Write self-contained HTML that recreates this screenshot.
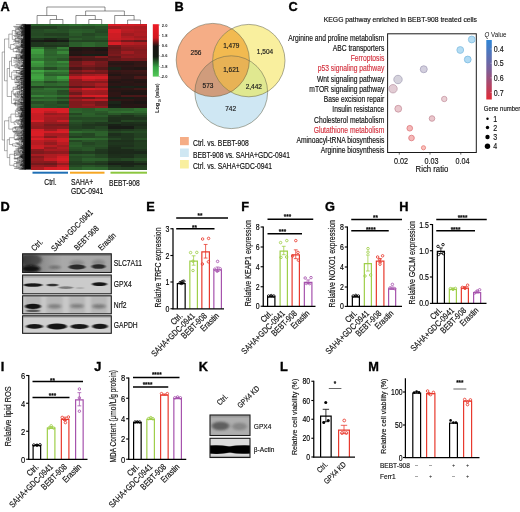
<!DOCTYPE html>
<html lang="en"><head><meta charset="utf-8"><title>Figure</title>
<style>
html,body{margin:0;padding:0;background:#fff;}
body{width:520px;height:512px;overflow:hidden;}
svg{display:block;font-family:"Liberation Sans",Arial,Helvetica,sans-serif;}
</style></head><body>
<svg width="520" height="512" viewBox="0 0 520 512">
<rect width="520" height="512" fill="#fff"/>
<g fill="#111">
<text x="0.50" y="11.30" font-size="12.8" font-weight="700" fill="#000" textLength="9.24" lengthAdjust="spacingAndGlyphs" stroke="#000" stroke-width="0.35">A</text>
<rect x="30.60" y="24.20" width="116.40" height="145.40" fill="#1a1a14"/>
<g shape-rendering="crispEdges">
<rect x="30.6" y="24.20" width="13.0" height="2.32" fill="#2c612c"/>
<rect x="43.5" y="24.20" width="13.0" height="2.32" fill="#2d642d"/>
<rect x="56.5" y="24.20" width="13.0" height="2.32" fill="#2e672e"/>
<rect x="69.4" y="24.20" width="13.0" height="2.32" fill="#317131"/>
<rect x="82.3" y="24.20" width="13.0" height="2.32" fill="#2f6b2f"/>
<rect x="95.3" y="24.20" width="13.0" height="2.32" fill="#317231"/>
<rect x="108.2" y="24.20" width="13.0" height="2.32" fill="#da1e26"/>
<rect x="121.1" y="24.20" width="13.0" height="2.32" fill="#d11d25"/>
<rect x="134.1" y="24.20" width="13.0" height="2.32" fill="#ce1d24"/>
<rect x="30.6" y="26.47" width="13.0" height="2.32" fill="#213c20"/>
<rect x="43.5" y="26.47" width="13.0" height="2.32" fill="#213b20"/>
<rect x="56.5" y="26.47" width="13.0" height="2.32" fill="#254824"/>
<rect x="69.4" y="26.47" width="13.0" height="2.32" fill="#264c25"/>
<rect x="82.3" y="26.47" width="13.0" height="2.32" fill="#254924"/>
<rect x="95.3" y="26.47" width="13.0" height="2.32" fill="#275126"/>
<rect x="108.2" y="26.47" width="13.0" height="2.32" fill="#a11b20"/>
<rect x="121.1" y="26.47" width="13.0" height="2.32" fill="#ae1c21"/>
<rect x="134.1" y="26.47" width="13.0" height="2.32" fill="#aa1c21"/>
<rect x="30.6" y="28.74" width="13.0" height="2.32" fill="#254924"/>
<rect x="43.5" y="28.74" width="13.0" height="2.32" fill="#285327"/>
<rect x="56.5" y="28.74" width="13.0" height="2.32" fill="#264d25"/>
<rect x="69.4" y="28.74" width="13.0" height="2.32" fill="#2a5a29"/>
<rect x="82.3" y="28.74" width="13.0" height="2.32" fill="#295729"/>
<rect x="95.3" y="28.74" width="13.0" height="2.32" fill="#264b25"/>
<rect x="108.2" y="28.74" width="13.0" height="2.32" fill="#da1e26"/>
<rect x="121.1" y="28.74" width="13.0" height="2.32" fill="#ba1c23"/>
<rect x="134.1" y="28.74" width="13.0" height="2.32" fill="#b01c22"/>
<rect x="30.6" y="31.02" width="13.0" height="2.32" fill="#264b25"/>
<rect x="43.5" y="31.02" width="13.0" height="2.32" fill="#275026"/>
<rect x="56.5" y="31.02" width="13.0" height="2.32" fill="#275026"/>
<rect x="69.4" y="31.02" width="13.0" height="2.32" fill="#2c5f2b"/>
<rect x="82.3" y="31.02" width="13.0" height="2.32" fill="#2a5a29"/>
<rect x="95.3" y="31.02" width="13.0" height="2.32" fill="#254724"/>
<rect x="108.2" y="31.02" width="13.0" height="2.32" fill="#da1e26"/>
<rect x="121.1" y="31.02" width="13.0" height="2.32" fill="#b31c22"/>
<rect x="134.1" y="31.02" width="13.0" height="2.32" fill="#aa1c21"/>
<rect x="30.6" y="33.29" width="13.0" height="2.32" fill="#254924"/>
<rect x="43.5" y="33.29" width="13.0" height="2.32" fill="#234021"/>
<rect x="56.5" y="33.29" width="13.0" height="2.32" fill="#224021"/>
<rect x="69.4" y="33.29" width="13.0" height="2.32" fill="#295728"/>
<rect x="82.3" y="33.29" width="13.0" height="2.32" fill="#254724"/>
<rect x="95.3" y="33.29" width="13.0" height="2.32" fill="#275026"/>
<rect x="108.2" y="33.29" width="13.0" height="2.32" fill="#cd1d24"/>
<rect x="121.1" y="33.29" width="13.0" height="2.32" fill="#a01b20"/>
<rect x="134.1" y="33.29" width="13.0" height="2.32" fill="#af1c22"/>
<rect x="30.6" y="35.56" width="13.0" height="2.32" fill="#274f26"/>
<rect x="43.5" y="35.56" width="13.0" height="2.32" fill="#274e26"/>
<rect x="56.5" y="35.56" width="13.0" height="2.32" fill="#254924"/>
<rect x="69.4" y="35.56" width="13.0" height="2.32" fill="#264c25"/>
<rect x="82.3" y="35.56" width="13.0" height="2.32" fill="#275026"/>
<rect x="95.3" y="35.56" width="13.0" height="2.32" fill="#2c5e2b"/>
<rect x="108.2" y="35.56" width="13.0" height="2.32" fill="#cd1d24"/>
<rect x="121.1" y="35.56" width="13.0" height="2.32" fill="#b01c22"/>
<rect x="134.1" y="35.56" width="13.0" height="2.32" fill="#a11b20"/>
<rect x="30.6" y="37.83" width="13.0" height="2.32" fill="#1e311c"/>
<rect x="43.5" y="37.83" width="13.0" height="2.32" fill="#1a2418"/>
<rect x="56.5" y="37.83" width="13.0" height="2.32" fill="#1e301c"/>
<rect x="69.4" y="37.83" width="13.0" height="2.32" fill="#2b5b2a"/>
<rect x="82.3" y="37.83" width="13.0" height="2.32" fill="#274f26"/>
<rect x="95.3" y="37.83" width="13.0" height="2.32" fill="#285327"/>
<rect x="108.2" y="37.83" width="13.0" height="2.32" fill="#c91d24"/>
<rect x="121.1" y="37.83" width="13.0" height="2.32" fill="#bb1c23"/>
<rect x="134.1" y="37.83" width="13.0" height="2.32" fill="#af1c21"/>
<rect x="30.6" y="40.10" width="13.0" height="2.32" fill="#181e16"/>
<rect x="43.5" y="40.10" width="13.0" height="2.32" fill="#1b1614"/>
<rect x="56.5" y="40.10" width="13.0" height="2.32" fill="#181e16"/>
<rect x="69.4" y="40.10" width="13.0" height="2.32" fill="#244523"/>
<rect x="82.3" y="40.10" width="13.0" height="2.32" fill="#234322"/>
<rect x="95.3" y="40.10" width="13.0" height="2.32" fill="#244422"/>
<rect x="108.2" y="40.10" width="13.0" height="2.32" fill="#a11b20"/>
<rect x="121.1" y="40.10" width="13.0" height="2.32" fill="#78191c"/>
<rect x="134.1" y="40.10" width="13.0" height="2.32" fill="#67191b"/>
<rect x="30.6" y="42.38" width="13.0" height="2.32" fill="#1f351e"/>
<rect x="43.5" y="42.38" width="13.0" height="2.32" fill="#223d20"/>
<rect x="56.5" y="42.38" width="13.0" height="2.32" fill="#234021"/>
<rect x="69.4" y="42.38" width="13.0" height="2.32" fill="#2b5d2b"/>
<rect x="82.3" y="42.38" width="13.0" height="2.32" fill="#2e662d"/>
<rect x="95.3" y="42.38" width="13.0" height="2.32" fill="#2b5c2a"/>
<rect x="108.2" y="42.38" width="13.0" height="2.32" fill="#da1e26"/>
<rect x="121.1" y="42.38" width="13.0" height="2.32" fill="#b61c22"/>
<rect x="134.1" y="42.38" width="13.0" height="2.32" fill="#ac1c21"/>
<rect x="30.6" y="44.65" width="13.0" height="2.32" fill="#1f351e"/>
<rect x="43.5" y="44.65" width="13.0" height="2.32" fill="#1f341d"/>
<rect x="56.5" y="44.65" width="13.0" height="2.32" fill="#20371e"/>
<rect x="69.4" y="44.65" width="13.0" height="2.32" fill="#2b5e2b"/>
<rect x="82.3" y="44.65" width="13.0" height="2.32" fill="#2e682e"/>
<rect x="95.3" y="44.65" width="13.0" height="2.32" fill="#2b5b2a"/>
<rect x="108.2" y="44.65" width="13.0" height="2.32" fill="#6f191c"/>
<rect x="121.1" y="44.65" width="13.0" height="2.32" fill="#961b1f"/>
<rect x="134.1" y="44.65" width="13.0" height="2.32" fill="#961b1f"/>
<rect x="30.6" y="46.92" width="13.0" height="2.32" fill="#347933"/>
<rect x="43.5" y="46.92" width="13.0" height="2.32" fill="#274f26"/>
<rect x="56.5" y="46.92" width="13.0" height="2.32" fill="#347c34"/>
<rect x="69.4" y="46.92" width="13.0" height="2.32" fill="#231614"/>
<rect x="82.3" y="46.92" width="13.0" height="2.32" fill="#251615"/>
<rect x="95.3" y="46.92" width="13.0" height="2.32" fill="#241614"/>
<rect x="108.2" y="46.92" width="13.0" height="2.32" fill="#64191a"/>
<rect x="121.1" y="46.92" width="13.0" height="2.32" fill="#861a1e"/>
<rect x="134.1" y="46.92" width="13.0" height="2.32" fill="#8e1a1e"/>
<rect x="30.6" y="49.19" width="13.0" height="2.32" fill="#3f9f3f"/>
<rect x="43.5" y="49.19" width="13.0" height="2.32" fill="#2c602b"/>
<rect x="56.5" y="49.19" width="13.0" height="2.32" fill="#2e682e"/>
<rect x="69.4" y="49.19" width="13.0" height="2.32" fill="#1d1614"/>
<rect x="82.3" y="49.19" width="13.0" height="2.32" fill="#251615"/>
<rect x="95.3" y="49.19" width="13.0" height="2.32" fill="#1b1614"/>
<rect x="108.2" y="49.19" width="13.0" height="2.32" fill="#6d191b"/>
<rect x="121.1" y="49.19" width="13.0" height="2.32" fill="#7f1a1d"/>
<rect x="134.1" y="49.19" width="13.0" height="2.32" fill="#821a1d"/>
<rect x="30.6" y="51.46" width="13.0" height="2.32" fill="#3e9a3e"/>
<rect x="43.5" y="51.46" width="13.0" height="2.32" fill="#2d652d"/>
<rect x="56.5" y="51.46" width="13.0" height="2.32" fill="#388638"/>
<rect x="69.4" y="51.46" width="13.0" height="2.32" fill="#271615"/>
<rect x="82.3" y="51.46" width="13.0" height="2.32" fill="#2e1615"/>
<rect x="95.3" y="51.46" width="13.0" height="2.32" fill="#2b1615"/>
<rect x="108.2" y="51.46" width="13.0" height="2.32" fill="#73191c"/>
<rect x="121.1" y="51.46" width="13.0" height="2.32" fill="#9f1b20"/>
<rect x="134.1" y="51.46" width="13.0" height="2.32" fill="#871a1e"/>
<rect x="30.6" y="53.73" width="13.0" height="2.32" fill="#388738"/>
<rect x="43.5" y="53.73" width="13.0" height="2.32" fill="#2c602c"/>
<rect x="56.5" y="53.73" width="13.0" height="2.32" fill="#2e662d"/>
<rect x="69.4" y="53.73" width="13.0" height="2.32" fill="#221614"/>
<rect x="82.3" y="53.73" width="13.0" height="2.32" fill="#191f17"/>
<rect x="95.3" y="53.73" width="13.0" height="2.32" fill="#181d16"/>
<rect x="108.2" y="53.73" width="13.0" height="2.32" fill="#7d1a1d"/>
<rect x="121.1" y="53.73" width="13.0" height="2.32" fill="#841a1e"/>
<rect x="134.1" y="53.73" width="13.0" height="2.32" fill="#8c1a1e"/>
<rect x="30.6" y="56.01" width="13.0" height="2.32" fill="#388939"/>
<rect x="43.5" y="56.01" width="13.0" height="2.32" fill="#2f6a2f"/>
<rect x="56.5" y="56.01" width="13.0" height="2.32" fill="#2e672e"/>
<rect x="69.4" y="56.01" width="13.0" height="2.32" fill="#5a181a"/>
<rect x="82.3" y="56.01" width="13.0" height="2.32" fill="#5e181a"/>
<rect x="95.3" y="56.01" width="13.0" height="2.32" fill="#831a1d"/>
<rect x="108.2" y="56.01" width="13.0" height="2.32" fill="#5f181a"/>
<rect x="121.1" y="56.01" width="13.0" height="2.32" fill="#901a1f"/>
<rect x="134.1" y="56.01" width="13.0" height="2.32" fill="#8a1a1e"/>
<rect x="30.6" y="58.28" width="13.0" height="2.32" fill="#327532"/>
<rect x="43.5" y="58.28" width="13.0" height="2.32" fill="#2d622c"/>
<rect x="56.5" y="58.28" width="13.0" height="2.32" fill="#295628"/>
<rect x="69.4" y="58.28" width="13.0" height="2.32" fill="#411717"/>
<rect x="82.3" y="58.28" width="13.0" height="2.32" fill="#511819"/>
<rect x="95.3" y="58.28" width="13.0" height="2.32" fill="#541819"/>
<rect x="108.2" y="58.28" width="13.0" height="2.32" fill="#69191b"/>
<rect x="121.1" y="58.28" width="13.0" height="2.32" fill="#75191c"/>
<rect x="134.1" y="58.28" width="13.0" height="2.32" fill="#72191c"/>
<rect x="30.6" y="60.55" width="13.0" height="2.32" fill="#3f9f40"/>
<rect x="43.5" y="60.55" width="13.0" height="2.32" fill="#317030"/>
<rect x="56.5" y="60.55" width="13.0" height="2.32" fill="#388939"/>
<rect x="69.4" y="60.55" width="13.0" height="2.32" fill="#6c191b"/>
<rect x="82.3" y="60.55" width="13.0" height="2.32" fill="#8a1a1e"/>
<rect x="95.3" y="60.55" width="13.0" height="2.32" fill="#76191c"/>
<rect x="108.2" y="60.55" width="13.0" height="2.32" fill="#311616"/>
<rect x="121.1" y="60.55" width="13.0" height="2.32" fill="#2e1615"/>
<rect x="134.1" y="60.55" width="13.0" height="2.32" fill="#321716"/>
<rect x="30.6" y="62.82" width="13.0" height="2.32" fill="#3b923b"/>
<rect x="43.5" y="62.82" width="13.0" height="2.32" fill="#2f6a2f"/>
<rect x="56.5" y="62.82" width="13.0" height="2.32" fill="#317131"/>
<rect x="69.4" y="62.82" width="13.0" height="2.32" fill="#6a191b"/>
<rect x="82.3" y="62.82" width="13.0" height="2.32" fill="#901a1f"/>
<rect x="95.3" y="62.82" width="13.0" height="2.32" fill="#70191c"/>
<rect x="108.2" y="62.82" width="13.0" height="2.32" fill="#281615"/>
<rect x="121.1" y="62.82" width="13.0" height="2.32" fill="#271615"/>
<rect x="134.1" y="62.82" width="13.0" height="2.32" fill="#321716"/>
<rect x="30.6" y="65.09" width="13.0" height="2.32" fill="#3a8d3a"/>
<rect x="43.5" y="65.09" width="13.0" height="2.32" fill="#317131"/>
<rect x="56.5" y="65.09" width="13.0" height="2.32" fill="#347a34"/>
<rect x="69.4" y="65.09" width="13.0" height="2.32" fill="#72191c"/>
<rect x="82.3" y="65.09" width="13.0" height="2.32" fill="#7d1a1d"/>
<rect x="95.3" y="65.09" width="13.0" height="2.32" fill="#6f191b"/>
<rect x="108.2" y="65.09" width="13.0" height="2.32" fill="#321716"/>
<rect x="121.1" y="65.09" width="13.0" height="2.32" fill="#301616"/>
<rect x="134.1" y="65.09" width="13.0" height="2.32" fill="#361716"/>
<rect x="30.6" y="67.37" width="13.0" height="2.32" fill="#2e682e"/>
<rect x="43.5" y="67.37" width="13.0" height="2.32" fill="#254824"/>
<rect x="56.5" y="67.37" width="13.0" height="2.32" fill="#2d622c"/>
<rect x="69.4" y="67.37" width="13.0" height="2.32" fill="#491718"/>
<rect x="82.3" y="67.37" width="13.0" height="2.32" fill="#62191a"/>
<rect x="95.3" y="67.37" width="13.0" height="2.32" fill="#561819"/>
<rect x="108.2" y="67.37" width="13.0" height="2.32" fill="#1a2418"/>
<rect x="121.1" y="67.37" width="13.0" height="2.32" fill="#271615"/>
<rect x="134.1" y="67.37" width="13.0" height="2.32" fill="#211614"/>
<rect x="30.6" y="69.64" width="13.0" height="2.32" fill="#41a542"/>
<rect x="43.5" y="69.64" width="13.0" height="2.32" fill="#388738"/>
<rect x="56.5" y="69.64" width="13.0" height="2.32" fill="#368236"/>
<rect x="69.4" y="69.64" width="13.0" height="2.32" fill="#7a1a1d"/>
<rect x="82.3" y="69.64" width="13.0" height="2.32" fill="#951b1f"/>
<rect x="95.3" y="69.64" width="13.0" height="2.32" fill="#7c1a1d"/>
<rect x="108.2" y="69.64" width="13.0" height="2.32" fill="#371716"/>
<rect x="121.1" y="69.64" width="13.0" height="2.32" fill="#3b1717"/>
<rect x="134.1" y="69.64" width="13.0" height="2.32" fill="#401717"/>
<rect x="30.6" y="71.91" width="13.0" height="2.32" fill="#3a8e3a"/>
<rect x="43.5" y="71.91" width="13.0" height="2.32" fill="#2e682e"/>
<rect x="56.5" y="71.91" width="13.0" height="2.32" fill="#306e30"/>
<rect x="69.4" y="71.91" width="13.0" height="2.32" fill="#64191a"/>
<rect x="82.3" y="71.91" width="13.0" height="2.32" fill="#71191c"/>
<rect x="95.3" y="71.91" width="13.0" height="2.32" fill="#72191c"/>
<rect x="108.2" y="71.91" width="13.0" height="2.32" fill="#2e1615"/>
<rect x="121.1" y="71.91" width="13.0" height="2.32" fill="#371716"/>
<rect x="134.1" y="71.91" width="13.0" height="2.32" fill="#381716"/>
<rect x="30.6" y="74.18" width="13.0" height="2.32" fill="#3f9e3f"/>
<rect x="43.5" y="74.18" width="13.0" height="2.32" fill="#2b5e2b"/>
<rect x="56.5" y="74.18" width="13.0" height="2.32" fill="#2c612c"/>
<rect x="69.4" y="74.18" width="13.0" height="2.32" fill="#8a1a1e"/>
<rect x="82.3" y="74.18" width="13.0" height="2.32" fill="#a21b20"/>
<rect x="95.3" y="74.18" width="13.0" height="2.32" fill="#ab1c21"/>
<rect x="108.2" y="74.18" width="13.0" height="2.32" fill="#221614"/>
<rect x="121.1" y="74.18" width="13.0" height="2.32" fill="#2d1615"/>
<rect x="134.1" y="74.18" width="13.0" height="2.32" fill="#2d1615"/>
<rect x="30.6" y="76.45" width="13.0" height="2.32" fill="#41a441"/>
<rect x="43.5" y="76.45" width="13.0" height="2.32" fill="#357d35"/>
<rect x="56.5" y="76.45" width="13.0" height="2.32" fill="#3e9b3e"/>
<rect x="69.4" y="76.45" width="13.0" height="2.32" fill="#c01c23"/>
<rect x="82.3" y="76.45" width="13.0" height="2.32" fill="#da1e26"/>
<rect x="95.3" y="76.45" width="13.0" height="2.32" fill="#d51d25"/>
<rect x="108.2" y="76.45" width="13.0" height="2.32" fill="#391716"/>
<rect x="121.1" y="76.45" width="13.0" height="2.32" fill="#301616"/>
<rect x="134.1" y="76.45" width="13.0" height="2.32" fill="#4b1818"/>
<rect x="30.6" y="78.73" width="13.0" height="2.32" fill="#3c963d"/>
<rect x="43.5" y="78.73" width="13.0" height="2.32" fill="#347933"/>
<rect x="56.5" y="78.73" width="13.0" height="2.32" fill="#388638"/>
<rect x="69.4" y="78.73" width="13.0" height="2.32" fill="#8d1a1e"/>
<rect x="82.3" y="78.73" width="13.0" height="2.32" fill="#bd1c23"/>
<rect x="95.3" y="78.73" width="13.0" height="2.32" fill="#ad1c21"/>
<rect x="108.2" y="78.73" width="13.0" height="2.32" fill="#2c1615"/>
<rect x="121.1" y="78.73" width="13.0" height="2.32" fill="#251615"/>
<rect x="134.1" y="78.73" width="13.0" height="2.32" fill="#271615"/>
<rect x="30.6" y="81.00" width="13.0" height="2.32" fill="#306d2f"/>
<rect x="43.5" y="81.00" width="13.0" height="2.32" fill="#274e26"/>
<rect x="56.5" y="81.00" width="13.0" height="2.32" fill="#2c602b"/>
<rect x="69.4" y="81.00" width="13.0" height="2.32" fill="#851a1e"/>
<rect x="82.3" y="81.00" width="13.0" height="2.32" fill="#831a1d"/>
<rect x="95.3" y="81.00" width="13.0" height="2.32" fill="#881a1e"/>
<rect x="108.2" y="81.00" width="13.0" height="2.32" fill="#221614"/>
<rect x="121.1" y="81.00" width="13.0" height="2.32" fill="#2b1615"/>
<rect x="134.1" y="81.00" width="13.0" height="2.32" fill="#221614"/>
<rect x="30.6" y="83.27" width="13.0" height="2.32" fill="#337632"/>
<rect x="43.5" y="83.27" width="13.0" height="2.32" fill="#2e662d"/>
<rect x="56.5" y="83.27" width="13.0" height="2.32" fill="#306c2f"/>
<rect x="69.4" y="83.27" width="13.0" height="2.32" fill="#861a1e"/>
<rect x="82.3" y="83.27" width="13.0" height="2.32" fill="#921b1f"/>
<rect x="95.3" y="83.27" width="13.0" height="2.32" fill="#aa1c21"/>
<rect x="108.2" y="83.27" width="13.0" height="2.32" fill="#2b1615"/>
<rect x="121.1" y="83.27" width="13.0" height="2.32" fill="#281615"/>
<rect x="134.1" y="83.27" width="13.0" height="2.32" fill="#2c1615"/>
<rect x="30.6" y="85.54" width="13.0" height="2.32" fill="#234021"/>
<rect x="43.5" y="85.54" width="13.0" height="2.32" fill="#264d25"/>
<rect x="56.5" y="85.54" width="13.0" height="2.32" fill="#264b25"/>
<rect x="69.4" y="85.54" width="13.0" height="2.32" fill="#5b181a"/>
<rect x="82.3" y="85.54" width="13.0" height="2.32" fill="#6c191b"/>
<rect x="95.3" y="85.54" width="13.0" height="2.32" fill="#8f1a1f"/>
<rect x="108.2" y="85.54" width="13.0" height="2.32" fill="#181e16"/>
<rect x="121.1" y="85.54" width="13.0" height="2.32" fill="#1a2218"/>
<rect x="134.1" y="85.54" width="13.0" height="2.32" fill="#181f17"/>
<rect x="30.6" y="87.81" width="13.0" height="2.32" fill="#2d622c"/>
<rect x="43.5" y="87.81" width="13.0" height="2.32" fill="#317231"/>
<rect x="56.5" y="87.81" width="13.0" height="2.32" fill="#306e30"/>
<rect x="69.4" y="87.81" width="13.0" height="2.32" fill="#a91b21"/>
<rect x="82.3" y="87.81" width="13.0" height="2.32" fill="#d51d25"/>
<rect x="95.3" y="87.81" width="13.0" height="2.32" fill="#ca1d24"/>
<rect x="108.2" y="87.81" width="13.0" height="2.32" fill="#2c1615"/>
<rect x="121.1" y="87.81" width="13.0" height="2.32" fill="#2f1615"/>
<rect x="134.1" y="87.81" width="13.0" height="2.32" fill="#3f1717"/>
<rect x="30.6" y="90.08" width="13.0" height="2.32" fill="#2f692e"/>
<rect x="43.5" y="90.08" width="13.0" height="2.32" fill="#2e682e"/>
<rect x="56.5" y="90.08" width="13.0" height="2.32" fill="#264c25"/>
<rect x="69.4" y="90.08" width="13.0" height="2.32" fill="#921b1f"/>
<rect x="82.3" y="90.08" width="13.0" height="2.32" fill="#a61b21"/>
<rect x="95.3" y="90.08" width="13.0" height="2.32" fill="#a21b20"/>
<rect x="108.2" y="90.08" width="13.0" height="2.32" fill="#271615"/>
<rect x="121.1" y="90.08" width="13.0" height="2.32" fill="#241614"/>
<rect x="134.1" y="90.08" width="13.0" height="2.32" fill="#231614"/>
<rect x="30.6" y="92.36" width="13.0" height="2.32" fill="#2c602c"/>
<rect x="43.5" y="92.36" width="13.0" height="2.32" fill="#2d622c"/>
<rect x="56.5" y="92.36" width="13.0" height="2.32" fill="#274e26"/>
<rect x="69.4" y="92.36" width="13.0" height="2.32" fill="#6f191c"/>
<rect x="82.3" y="92.36" width="13.0" height="2.32" fill="#a11b20"/>
<rect x="95.3" y="92.36" width="13.0" height="2.32" fill="#9c1b20"/>
<rect x="108.2" y="92.36" width="13.0" height="2.32" fill="#2e1615"/>
<rect x="121.1" y="92.36" width="13.0" height="2.32" fill="#1e1614"/>
<rect x="134.1" y="92.36" width="13.0" height="2.32" fill="#1f1614"/>
<rect x="30.6" y="94.63" width="13.0" height="2.32" fill="#378337"/>
<rect x="43.5" y="94.63" width="13.0" height="2.32" fill="#337633"/>
<rect x="56.5" y="94.63" width="13.0" height="2.32" fill="#306d2f"/>
<rect x="69.4" y="94.63" width="13.0" height="2.32" fill="#ab1c21"/>
<rect x="82.3" y="94.63" width="13.0" height="2.32" fill="#d71d25"/>
<rect x="95.3" y="94.63" width="13.0" height="2.32" fill="#da1e26"/>
<rect x="108.2" y="94.63" width="13.0" height="2.32" fill="#2e1615"/>
<rect x="121.1" y="94.63" width="13.0" height="2.32" fill="#491718"/>
<rect x="134.1" y="94.63" width="13.0" height="2.32" fill="#491718"/>
<rect x="30.6" y="96.90" width="13.0" height="2.32" fill="#2a5829"/>
<rect x="43.5" y="96.90" width="13.0" height="2.32" fill="#2b5e2b"/>
<rect x="56.5" y="96.90" width="13.0" height="2.32" fill="#254723"/>
<rect x="69.4" y="96.90" width="13.0" height="2.32" fill="#71191c"/>
<rect x="82.3" y="96.90" width="13.0" height="2.32" fill="#6b191b"/>
<rect x="95.3" y="96.90" width="13.0" height="2.32" fill="#8b1a1e"/>
<rect x="108.2" y="96.90" width="13.0" height="2.32" fill="#181c16"/>
<rect x="121.1" y="96.90" width="13.0" height="2.32" fill="#181d16"/>
<rect x="134.1" y="96.90" width="13.0" height="2.32" fill="#251615"/>
<rect x="30.6" y="99.17" width="13.0" height="2.32" fill="#306c2f"/>
<rect x="43.5" y="99.17" width="13.0" height="2.32" fill="#2f6a2f"/>
<rect x="56.5" y="99.17" width="13.0" height="2.32" fill="#2c5f2b"/>
<rect x="69.4" y="99.17" width="13.0" height="2.32" fill="#931b1f"/>
<rect x="82.3" y="99.17" width="13.0" height="2.32" fill="#b41c22"/>
<rect x="95.3" y="99.17" width="13.0" height="2.32" fill="#bd1c23"/>
<rect x="108.2" y="99.17" width="13.0" height="2.32" fill="#311616"/>
<rect x="121.1" y="99.17" width="13.0" height="2.32" fill="#2e1615"/>
<rect x="134.1" y="99.17" width="13.0" height="2.32" fill="#261615"/>
<rect x="30.6" y="101.44" width="13.0" height="2.32" fill="#264b25"/>
<rect x="43.5" y="101.44" width="13.0" height="2.32" fill="#285227"/>
<rect x="56.5" y="101.44" width="13.0" height="2.32" fill="#224021"/>
<rect x="69.4" y="101.44" width="13.0" height="2.32" fill="#7f1a1d"/>
<rect x="82.3" y="101.44" width="13.0" height="2.32" fill="#831a1d"/>
<rect x="95.3" y="101.44" width="13.0" height="2.32" fill="#6f191c"/>
<rect x="108.2" y="101.44" width="13.0" height="2.32" fill="#1b2619"/>
<rect x="121.1" y="101.44" width="13.0" height="2.32" fill="#211614"/>
<rect x="134.1" y="101.44" width="13.0" height="2.32" fill="#1c1614"/>
<rect x="30.6" y="103.72" width="13.0" height="2.32" fill="#2c5f2b"/>
<rect x="43.5" y="103.72" width="13.0" height="2.32" fill="#274f26"/>
<rect x="56.5" y="103.72" width="13.0" height="2.32" fill="#285327"/>
<rect x="69.4" y="103.72" width="13.0" height="2.32" fill="#801a1d"/>
<rect x="82.3" y="103.72" width="13.0" height="2.32" fill="#961b1f"/>
<rect x="95.3" y="103.72" width="13.0" height="2.32" fill="#73191c"/>
<rect x="108.2" y="103.72" width="13.0" height="2.32" fill="#181c16"/>
<rect x="121.1" y="103.72" width="13.0" height="2.32" fill="#261615"/>
<rect x="134.1" y="103.72" width="13.0" height="2.32" fill="#291615"/>
<rect x="30.6" y="105.99" width="13.0" height="2.32" fill="#2a5929"/>
<rect x="43.5" y="105.99" width="13.0" height="2.32" fill="#275127"/>
<rect x="56.5" y="105.99" width="13.0" height="2.32" fill="#264a24"/>
<rect x="69.4" y="105.99" width="13.0" height="2.32" fill="#831a1d"/>
<rect x="82.3" y="105.99" width="13.0" height="2.32" fill="#8a1a1e"/>
<rect x="95.3" y="105.99" width="13.0" height="2.32" fill="#901a1f"/>
<rect x="108.2" y="105.99" width="13.0" height="2.32" fill="#192117"/>
<rect x="121.1" y="105.99" width="13.0" height="2.32" fill="#281615"/>
<rect x="134.1" y="105.99" width="13.0" height="2.32" fill="#251615"/>
<rect x="30.6" y="108.26" width="13.0" height="2.32" fill="#da1e26"/>
<rect x="43.5" y="108.26" width="13.0" height="2.32" fill="#d91d25"/>
<rect x="56.5" y="108.26" width="13.0" height="2.32" fill="#da1e26"/>
<rect x="69.4" y="108.26" width="13.0" height="2.32" fill="#2c5f2b"/>
<rect x="82.3" y="108.26" width="13.0" height="2.32" fill="#2a5929"/>
<rect x="95.3" y="108.26" width="13.0" height="2.32" fill="#2f6a2e"/>
<rect x="108.2" y="108.26" width="13.0" height="2.32" fill="#2c5f2b"/>
<rect x="121.1" y="108.26" width="13.0" height="2.32" fill="#2c612c"/>
<rect x="134.1" y="108.26" width="13.0" height="2.32" fill="#306f30"/>
<rect x="30.6" y="110.53" width="13.0" height="2.32" fill="#da1e26"/>
<rect x="43.5" y="110.53" width="13.0" height="2.32" fill="#c01c23"/>
<rect x="56.5" y="110.53" width="13.0" height="2.32" fill="#da1e26"/>
<rect x="69.4" y="110.53" width="13.0" height="2.32" fill="#2e652d"/>
<rect x="82.3" y="110.53" width="13.0" height="2.32" fill="#2a5b2a"/>
<rect x="95.3" y="110.53" width="13.0" height="2.32" fill="#2a5829"/>
<rect x="108.2" y="110.53" width="13.0" height="2.32" fill="#306c2f"/>
<rect x="121.1" y="110.53" width="13.0" height="2.32" fill="#317131"/>
<rect x="134.1" y="110.53" width="13.0" height="2.32" fill="#2e672e"/>
<rect x="30.6" y="112.80" width="13.0" height="2.32" fill="#c81d24"/>
<rect x="43.5" y="112.80" width="13.0" height="2.32" fill="#971b1f"/>
<rect x="56.5" y="112.80" width="13.0" height="2.32" fill="#a21b20"/>
<rect x="69.4" y="112.80" width="13.0" height="2.32" fill="#254723"/>
<rect x="82.3" y="112.80" width="13.0" height="2.32" fill="#2c602b"/>
<rect x="95.3" y="112.80" width="13.0" height="2.32" fill="#275026"/>
<rect x="108.2" y="112.80" width="13.0" height="2.32" fill="#2a5829"/>
<rect x="121.1" y="112.80" width="13.0" height="2.32" fill="#264b25"/>
<rect x="134.1" y="112.80" width="13.0" height="2.32" fill="#285327"/>
<rect x="30.6" y="115.08" width="13.0" height="2.32" fill="#c51d24"/>
<rect x="43.5" y="115.08" width="13.0" height="2.32" fill="#b11c22"/>
<rect x="56.5" y="115.08" width="13.0" height="2.32" fill="#b01c22"/>
<rect x="69.4" y="115.08" width="13.0" height="2.32" fill="#2a5829"/>
<rect x="82.3" y="115.08" width="13.0" height="2.32" fill="#2b5d2a"/>
<rect x="95.3" y="115.08" width="13.0" height="2.32" fill="#2a5b2a"/>
<rect x="108.2" y="115.08" width="13.0" height="2.32" fill="#213a1f"/>
<rect x="121.1" y="115.08" width="13.0" height="2.32" fill="#1f341d"/>
<rect x="134.1" y="115.08" width="13.0" height="2.32" fill="#234222"/>
<rect x="30.6" y="117.35" width="13.0" height="2.32" fill="#c61d24"/>
<rect x="43.5" y="117.35" width="13.0" height="2.32" fill="#a71b21"/>
<rect x="56.5" y="117.35" width="13.0" height="2.32" fill="#a31b20"/>
<rect x="69.4" y="117.35" width="13.0" height="2.32" fill="#254824"/>
<rect x="82.3" y="117.35" width="13.0" height="2.32" fill="#254a24"/>
<rect x="95.3" y="117.35" width="13.0" height="2.32" fill="#254a24"/>
<rect x="108.2" y="117.35" width="13.0" height="2.32" fill="#1e301c"/>
<rect x="121.1" y="117.35" width="13.0" height="2.32" fill="#1f331d"/>
<rect x="134.1" y="117.35" width="13.0" height="2.32" fill="#1f331d"/>
<rect x="30.6" y="119.62" width="13.0" height="2.32" fill="#da1e26"/>
<rect x="43.5" y="119.62" width="13.0" height="2.32" fill="#a41b21"/>
<rect x="56.5" y="119.62" width="13.0" height="2.32" fill="#c81d24"/>
<rect x="69.4" y="119.62" width="13.0" height="2.32" fill="#2a5829"/>
<rect x="82.3" y="119.62" width="13.0" height="2.32" fill="#274f26"/>
<rect x="95.3" y="119.62" width="13.0" height="2.32" fill="#285127"/>
<rect x="108.2" y="119.62" width="13.0" height="2.32" fill="#1d2e1b"/>
<rect x="121.1" y="119.62" width="13.0" height="2.32" fill="#254723"/>
<rect x="134.1" y="119.62" width="13.0" height="2.32" fill="#234222"/>
<rect x="30.6" y="121.89" width="13.0" height="2.32" fill="#a01b20"/>
<rect x="43.5" y="121.89" width="13.0" height="2.32" fill="#921b1f"/>
<rect x="56.5" y="121.89" width="13.0" height="2.32" fill="#971b1f"/>
<rect x="69.4" y="121.89" width="13.0" height="2.32" fill="#264b25"/>
<rect x="82.3" y="121.89" width="13.0" height="2.32" fill="#234121"/>
<rect x="95.3" y="121.89" width="13.0" height="2.32" fill="#20381f"/>
<rect x="108.2" y="121.89" width="13.0" height="2.32" fill="#20391f"/>
<rect x="121.1" y="121.89" width="13.0" height="2.32" fill="#1d2e1b"/>
<rect x="134.1" y="121.89" width="13.0" height="2.32" fill="#1e311c"/>
<rect x="30.6" y="124.16" width="13.0" height="2.32" fill="#991b1f"/>
<rect x="43.5" y="124.16" width="13.0" height="2.32" fill="#7a1a1d"/>
<rect x="56.5" y="124.16" width="13.0" height="2.32" fill="#77191c"/>
<rect x="69.4" y="124.16" width="13.0" height="2.32" fill="#234322"/>
<rect x="82.3" y="124.16" width="13.0" height="2.32" fill="#1f361e"/>
<rect x="95.3" y="124.16" width="13.0" height="2.32" fill="#1f331d"/>
<rect x="108.2" y="124.16" width="13.0" height="2.32" fill="#192117"/>
<rect x="121.1" y="124.16" width="13.0" height="2.32" fill="#1b291a"/>
<rect x="134.1" y="124.16" width="13.0" height="2.32" fill="#1c2a1a"/>
<rect x="30.6" y="126.43" width="13.0" height="2.32" fill="#921b1f"/>
<rect x="43.5" y="126.43" width="13.0" height="2.32" fill="#851a1e"/>
<rect x="56.5" y="126.43" width="13.0" height="2.32" fill="#8b1a1e"/>
<rect x="69.4" y="126.43" width="13.0" height="2.32" fill="#223f21"/>
<rect x="82.3" y="126.43" width="13.0" height="2.32" fill="#20391f"/>
<rect x="95.3" y="126.43" width="13.0" height="2.32" fill="#234322"/>
<rect x="108.2" y="126.43" width="13.0" height="2.32" fill="#181c16"/>
<rect x="121.1" y="126.43" width="13.0" height="2.32" fill="#181c16"/>
<rect x="134.1" y="126.43" width="13.0" height="2.32" fill="#1e311c"/>
<rect x="30.6" y="128.71" width="13.0" height="2.32" fill="#d31d25"/>
<rect x="43.5" y="128.71" width="13.0" height="2.32" fill="#9e1b20"/>
<rect x="56.5" y="128.71" width="13.0" height="2.32" fill="#cc1d24"/>
<rect x="69.4" y="128.71" width="13.0" height="2.32" fill="#264c25"/>
<rect x="82.3" y="128.71" width="13.0" height="2.32" fill="#295428"/>
<rect x="95.3" y="128.71" width="13.0" height="2.32" fill="#264b25"/>
<rect x="108.2" y="128.71" width="13.0" height="2.32" fill="#1f341d"/>
<rect x="121.1" y="128.71" width="13.0" height="2.32" fill="#20391f"/>
<rect x="134.1" y="128.71" width="13.0" height="2.32" fill="#234121"/>
<rect x="30.6" y="130.98" width="13.0" height="2.32" fill="#da1e26"/>
<rect x="43.5" y="130.98" width="13.0" height="2.32" fill="#d01d25"/>
<rect x="56.5" y="130.98" width="13.0" height="2.32" fill="#da1e26"/>
<rect x="69.4" y="130.98" width="13.0" height="2.32" fill="#306c2f"/>
<rect x="82.3" y="130.98" width="13.0" height="2.32" fill="#2d622c"/>
<rect x="95.3" y="130.98" width="13.0" height="2.32" fill="#2c602b"/>
<rect x="108.2" y="130.98" width="13.0" height="2.32" fill="#244422"/>
<rect x="121.1" y="130.98" width="13.0" height="2.32" fill="#264d25"/>
<rect x="134.1" y="130.98" width="13.0" height="2.32" fill="#254924"/>
<rect x="30.6" y="133.25" width="13.0" height="2.32" fill="#da1e26"/>
<rect x="43.5" y="133.25" width="13.0" height="2.32" fill="#a71b21"/>
<rect x="56.5" y="133.25" width="13.0" height="2.32" fill="#a61b21"/>
<rect x="69.4" y="133.25" width="13.0" height="2.32" fill="#274f26"/>
<rect x="82.3" y="133.25" width="13.0" height="2.32" fill="#244623"/>
<rect x="95.3" y="133.25" width="13.0" height="2.32" fill="#2c602b"/>
<rect x="108.2" y="133.25" width="13.0" height="2.32" fill="#1d2e1c"/>
<rect x="121.1" y="133.25" width="13.0" height="2.32" fill="#1f361e"/>
<rect x="134.1" y="133.25" width="13.0" height="2.32" fill="#234122"/>
<rect x="30.6" y="135.52" width="13.0" height="2.32" fill="#bd1c23"/>
<rect x="43.5" y="135.52" width="13.0" height="2.32" fill="#861a1e"/>
<rect x="56.5" y="135.52" width="13.0" height="2.32" fill="#ab1c21"/>
<rect x="69.4" y="135.52" width="13.0" height="2.32" fill="#223f21"/>
<rect x="82.3" y="135.52" width="13.0" height="2.32" fill="#254724"/>
<rect x="95.3" y="135.52" width="13.0" height="2.32" fill="#274f26"/>
<rect x="108.2" y="135.52" width="13.0" height="2.32" fill="#1f351e"/>
<rect x="121.1" y="135.52" width="13.0" height="2.32" fill="#1f351e"/>
<rect x="134.1" y="135.52" width="13.0" height="2.32" fill="#234021"/>
<rect x="30.6" y="137.79" width="13.0" height="2.32" fill="#da1e26"/>
<rect x="43.5" y="137.79" width="13.0" height="2.32" fill="#c91d24"/>
<rect x="56.5" y="137.79" width="13.0" height="2.32" fill="#d01d25"/>
<rect x="69.4" y="137.79" width="13.0" height="2.32" fill="#306e30"/>
<rect x="82.3" y="137.79" width="13.0" height="2.32" fill="#306c2f"/>
<rect x="95.3" y="137.79" width="13.0" height="2.32" fill="#2e662d"/>
<rect x="108.2" y="137.79" width="13.0" height="2.32" fill="#244523"/>
<rect x="121.1" y="137.79" width="13.0" height="2.32" fill="#20381f"/>
<rect x="134.1" y="137.79" width="13.0" height="2.32" fill="#274f26"/>
<rect x="30.6" y="140.07" width="13.0" height="2.32" fill="#bc1c23"/>
<rect x="43.5" y="140.07" width="13.0" height="2.32" fill="#ad1c21"/>
<rect x="56.5" y="140.07" width="13.0" height="2.32" fill="#ce1d24"/>
<rect x="69.4" y="140.07" width="13.0" height="2.32" fill="#254723"/>
<rect x="82.3" y="140.07" width="13.0" height="2.32" fill="#295528"/>
<rect x="95.3" y="140.07" width="13.0" height="2.32" fill="#274f26"/>
<rect x="108.2" y="140.07" width="13.0" height="2.32" fill="#1e301c"/>
<rect x="121.1" y="140.07" width="13.0" height="2.32" fill="#1e311c"/>
<rect x="134.1" y="140.07" width="13.0" height="2.32" fill="#213a1f"/>
<rect x="30.6" y="142.34" width="13.0" height="2.32" fill="#b61c22"/>
<rect x="43.5" y="142.34" width="13.0" height="2.32" fill="#941b1f"/>
<rect x="56.5" y="142.34" width="13.0" height="2.32" fill="#b81c22"/>
<rect x="69.4" y="142.34" width="13.0" height="2.32" fill="#2a5929"/>
<rect x="82.3" y="142.34" width="13.0" height="2.32" fill="#244523"/>
<rect x="95.3" y="142.34" width="13.0" height="2.32" fill="#274f26"/>
<rect x="108.2" y="142.34" width="13.0" height="2.32" fill="#1f361e"/>
<rect x="121.1" y="142.34" width="13.0" height="2.32" fill="#1f351e"/>
<rect x="134.1" y="142.34" width="13.0" height="2.32" fill="#223e20"/>
<rect x="30.6" y="144.61" width="13.0" height="2.32" fill="#c71d24"/>
<rect x="43.5" y="144.61" width="13.0" height="2.32" fill="#b61c22"/>
<rect x="56.5" y="144.61" width="13.0" height="2.32" fill="#a31b20"/>
<rect x="69.4" y="144.61" width="13.0" height="2.32" fill="#2c5f2b"/>
<rect x="82.3" y="144.61" width="13.0" height="2.32" fill="#274f26"/>
<rect x="95.3" y="144.61" width="13.0" height="2.32" fill="#285327"/>
<rect x="108.2" y="144.61" width="13.0" height="2.32" fill="#1e301c"/>
<rect x="121.1" y="144.61" width="13.0" height="2.32" fill="#1e311d"/>
<rect x="134.1" y="144.61" width="13.0" height="2.32" fill="#223d20"/>
<rect x="30.6" y="146.88" width="13.0" height="2.32" fill="#cc1d24"/>
<rect x="43.5" y="146.88" width="13.0" height="2.32" fill="#941b1f"/>
<rect x="56.5" y="146.88" width="13.0" height="2.32" fill="#b11c22"/>
<rect x="69.4" y="146.88" width="13.0" height="2.32" fill="#285327"/>
<rect x="82.3" y="146.88" width="13.0" height="2.32" fill="#295628"/>
<rect x="95.3" y="146.88" width="13.0" height="2.32" fill="#254824"/>
<rect x="108.2" y="146.88" width="13.0" height="2.32" fill="#1c2b1a"/>
<rect x="121.1" y="146.88" width="13.0" height="2.32" fill="#213c20"/>
<rect x="134.1" y="146.88" width="13.0" height="2.32" fill="#223f21"/>
<rect x="30.6" y="149.15" width="13.0" height="2.32" fill="#8a1a1e"/>
<rect x="43.5" y="149.15" width="13.0" height="2.32" fill="#a81b21"/>
<rect x="56.5" y="149.15" width="13.0" height="2.32" fill="#a61b21"/>
<rect x="69.4" y="149.15" width="13.0" height="2.32" fill="#264c25"/>
<rect x="82.3" y="149.15" width="13.0" height="2.32" fill="#295628"/>
<rect x="95.3" y="149.15" width="13.0" height="2.32" fill="#20381f"/>
<rect x="108.2" y="149.15" width="13.0" height="2.32" fill="#1c2a1a"/>
<rect x="121.1" y="149.15" width="13.0" height="2.32" fill="#1c2a1a"/>
<rect x="134.1" y="149.15" width="13.0" height="2.32" fill="#1e331d"/>
<rect x="30.6" y="151.43" width="13.0" height="2.32" fill="#7d1a1d"/>
<rect x="43.5" y="151.43" width="13.0" height="2.32" fill="#8a1a1e"/>
<rect x="56.5" y="151.43" width="13.0" height="2.32" fill="#901a1f"/>
<rect x="69.4" y="151.43" width="13.0" height="2.32" fill="#20391f"/>
<rect x="82.3" y="151.43" width="13.0" height="2.32" fill="#223e21"/>
<rect x="95.3" y="151.43" width="13.0" height="2.32" fill="#1f351e"/>
<rect x="108.2" y="151.43" width="13.0" height="2.32" fill="#1b2819"/>
<rect x="121.1" y="151.43" width="13.0" height="2.32" fill="#1c291a"/>
<rect x="134.1" y="151.43" width="13.0" height="2.32" fill="#1b281a"/>
<rect x="30.6" y="153.70" width="13.0" height="2.32" fill="#a71b21"/>
<rect x="43.5" y="153.70" width="13.0" height="2.32" fill="#ad1c21"/>
<rect x="56.5" y="153.70" width="13.0" height="2.32" fill="#b81c22"/>
<rect x="69.4" y="153.70" width="13.0" height="2.32" fill="#295528"/>
<rect x="82.3" y="153.70" width="13.0" height="2.32" fill="#2a5829"/>
<rect x="95.3" y="153.70" width="13.0" height="2.32" fill="#244623"/>
<rect x="108.2" y="153.70" width="13.0" height="2.32" fill="#1d2e1b"/>
<rect x="121.1" y="153.70" width="13.0" height="2.32" fill="#1d2f1c"/>
<rect x="134.1" y="153.70" width="13.0" height="2.32" fill="#213c20"/>
<rect x="30.6" y="155.97" width="13.0" height="2.32" fill="#841a1d"/>
<rect x="43.5" y="155.97" width="13.0" height="2.32" fill="#ae1c21"/>
<rect x="56.5" y="155.97" width="13.0" height="2.32" fill="#ce1d24"/>
<rect x="69.4" y="155.97" width="13.0" height="2.32" fill="#254924"/>
<rect x="82.3" y="155.97" width="13.0" height="2.32" fill="#274e26"/>
<rect x="95.3" y="155.97" width="13.0" height="2.32" fill="#244523"/>
<rect x="108.2" y="155.97" width="13.0" height="2.32" fill="#1e301c"/>
<rect x="121.1" y="155.97" width="13.0" height="2.32" fill="#1d2d1b"/>
<rect x="134.1" y="155.97" width="13.0" height="2.32" fill="#223d20"/>
<rect x="30.6" y="158.24" width="13.0" height="2.32" fill="#971b1f"/>
<rect x="43.5" y="158.24" width="13.0" height="2.32" fill="#c11c23"/>
<rect x="56.5" y="158.24" width="13.0" height="2.32" fill="#d81d25"/>
<rect x="69.4" y="158.24" width="13.0" height="2.32" fill="#264d25"/>
<rect x="82.3" y="158.24" width="13.0" height="2.32" fill="#2b5e2b"/>
<rect x="95.3" y="158.24" width="13.0" height="2.32" fill="#2b5c2a"/>
<rect x="108.2" y="158.24" width="13.0" height="2.32" fill="#223f21"/>
<rect x="121.1" y="158.24" width="13.0" height="2.32" fill="#244723"/>
<rect x="134.1" y="158.24" width="13.0" height="2.32" fill="#274f26"/>
<rect x="30.6" y="160.51" width="13.0" height="2.32" fill="#8b1a1e"/>
<rect x="43.5" y="160.51" width="13.0" height="2.32" fill="#881a1e"/>
<rect x="56.5" y="160.51" width="13.0" height="2.32" fill="#bf1c23"/>
<rect x="69.4" y="160.51" width="13.0" height="2.32" fill="#224021"/>
<rect x="82.3" y="160.51" width="13.0" height="2.32" fill="#264d25"/>
<rect x="95.3" y="160.51" width="13.0" height="2.32" fill="#223e20"/>
<rect x="108.2" y="160.51" width="13.0" height="2.32" fill="#1c2b1a"/>
<rect x="121.1" y="160.51" width="13.0" height="2.32" fill="#1b281a"/>
<rect x="134.1" y="160.51" width="13.0" height="2.32" fill="#20381e"/>
<rect x="30.6" y="162.78" width="13.0" height="2.32" fill="#74191c"/>
<rect x="43.5" y="162.78" width="13.0" height="2.32" fill="#6b191b"/>
<rect x="56.5" y="162.78" width="13.0" height="2.32" fill="#941b1f"/>
<rect x="69.4" y="162.78" width="13.0" height="2.32" fill="#213d20"/>
<rect x="82.3" y="162.78" width="13.0" height="2.32" fill="#213a1f"/>
<rect x="95.3" y="162.78" width="13.0" height="2.32" fill="#1f351e"/>
<rect x="108.2" y="162.78" width="13.0" height="2.32" fill="#191f17"/>
<rect x="121.1" y="162.78" width="13.0" height="2.32" fill="#1a2318"/>
<rect x="134.1" y="162.78" width="13.0" height="2.32" fill="#1a2418"/>
<rect x="30.6" y="165.06" width="13.0" height="2.32" fill="#951b1f"/>
<rect x="43.5" y="165.06" width="13.0" height="2.32" fill="#8b1a1e"/>
<rect x="56.5" y="165.06" width="13.0" height="2.32" fill="#bd1c23"/>
<rect x="69.4" y="165.06" width="13.0" height="2.32" fill="#254824"/>
<rect x="82.3" y="165.06" width="13.0" height="2.32" fill="#285327"/>
<rect x="95.3" y="165.06" width="13.0" height="2.32" fill="#264a25"/>
<rect x="108.2" y="165.06" width="13.0" height="2.32" fill="#1f361e"/>
<rect x="121.1" y="165.06" width="13.0" height="2.32" fill="#1b291a"/>
<rect x="134.1" y="165.06" width="13.0" height="2.32" fill="#213a1f"/>
<rect x="30.6" y="167.33" width="13.0" height="2.32" fill="#ac1c21"/>
<rect x="43.5" y="167.33" width="13.0" height="2.32" fill="#d41d25"/>
<rect x="56.5" y="167.33" width="13.0" height="2.32" fill="#da1e26"/>
<rect x="69.4" y="167.33" width="13.0" height="2.32" fill="#2b5d2a"/>
<rect x="82.3" y="167.33" width="13.0" height="2.32" fill="#2f692e"/>
<rect x="95.3" y="167.33" width="13.0" height="2.32" fill="#2e662d"/>
<rect x="108.2" y="167.33" width="13.0" height="2.32" fill="#244423"/>
<rect x="121.1" y="167.33" width="13.0" height="2.32" fill="#234122"/>
<rect x="134.1" y="167.33" width="13.0" height="2.32" fill="#234222"/>
</g>
<rect x="24.60" y="24.20" width="6.30" height="145.40" fill="#000"/>
<path d="M25.6 24.4H21.9M25.6 24.8H22.5M25.6 25.2H21.0M25.6 25.7H21.8M25.6 26.1H23.1M25.6 26.5H23.1M25.6 26.9H20.4M25.6 27.3H20.7M25.6 27.8H20.2M25.6 28.2H21.5M25.6 28.6H20.1M25.6 29.0H21.6M25.6 29.4H22.3M25.6 29.9H21.0M25.6 30.3H22.4M25.6 30.7H22.1M25.6 31.1H20.1M25.6 31.5H22.0M25.6 32.0H20.9M25.6 32.4H21.5M25.6 32.8H21.0M25.6 33.2H22.4M25.6 33.6H21.5M25.6 34.1H20.5M25.6 34.5H21.9M25.6 34.9H22.7M25.6 35.3H21.1M25.6 35.7H20.8M25.6 36.2H21.4M25.6 36.6H23.3M25.6 37.0H23.4M25.6 37.4H22.4M25.6 37.8H23.2M25.6 38.3H23.0M25.6 38.7H21.3M25.6 39.1H20.3M25.6 39.5H22.3M25.6 39.9H22.0M25.6 40.4H21.3M25.6 40.8H20.8M25.6 41.2H21.4M25.6 41.6H21.6M25.6 42.0H20.9M25.6 42.5H21.0M25.6 42.9H21.6M25.6 43.3H23.0M25.6 43.7H22.1M25.6 44.1H21.0M25.6 44.6H21.0M25.6 45.0H21.6M25.6 45.4H20.7M25.6 45.8H20.7M25.6 46.2H21.8M25.6 46.7H20.3M25.6 47.1H21.7M25.6 47.5H21.3M25.6 47.9H22.5M25.6 48.3H22.6M25.6 48.8H22.4M25.6 49.2H22.4M25.6 49.6H21.3M25.6 50.0H22.3M25.6 50.4H21.2M25.6 50.9H22.0M25.6 51.3H21.1M25.6 51.7H21.6M25.6 52.1H20.2M25.6 52.5H20.8M25.6 53.0H23.4M25.6 53.4H20.8M25.6 53.8H22.4M25.6 54.2H22.3M25.6 54.6H22.5M25.6 55.1H21.7M25.6 55.5H22.1M25.6 55.9H20.2M25.6 56.3H20.3M25.6 56.7H20.7M25.6 57.2H20.5M25.6 57.6H20.4M25.6 58.0H20.5M25.6 58.4H21.9M25.6 58.8H20.7M25.6 59.3H23.3M25.6 59.7H22.4M25.6 60.1H21.9M25.6 60.5H22.5M25.6 60.9H20.9M25.6 61.4H23.2M25.6 61.8H22.9M25.6 62.2H22.5M25.6 62.6H21.7M25.6 63.0H22.9M25.6 63.5H22.6M25.6 63.9H22.3M25.6 64.3H23.2M25.6 64.7H22.2M25.6 65.1H21.3M25.6 65.6H21.9M25.6 66.0H20.7M25.6 66.4H20.7M25.6 66.8H22.5M25.6 67.2H22.7M25.6 67.7H23.4M25.6 68.1H23.0M25.6 68.5H21.9M25.6 68.9H20.3M25.6 69.3H21.7M25.6 69.8H23.2M25.6 70.2H22.8M25.6 70.6H21.7M25.6 71.0H21.6M25.6 71.4H20.8M25.6 71.9H20.6M25.6 72.3H20.3M25.6 72.7H23.1M25.6 73.1H22.2M25.6 73.5H20.5M25.6 74.0H21.4M25.6 74.4H20.2M25.6 74.8H20.7M25.6 75.2H22.6M25.6 75.6H22.3M25.6 76.1H21.7M25.6 76.5H21.0M25.6 76.9H22.3M25.6 77.3H23.3M25.6 77.7H21.5M25.6 78.2H20.2M25.6 78.6H20.2M25.6 79.0H20.3M25.6 79.4H23.4M25.6 79.8H21.9M25.6 80.3H22.9M25.6 80.7H20.6M25.6 81.1H20.9M25.6 81.5H22.4M25.6 81.9H23.1M25.6 82.4H21.2M25.6 82.8H20.2M25.6 83.2H23.0M25.6 83.6H21.0M25.6 84.0H22.6M25.6 84.5H20.6M25.6 84.9H22.4M25.6 85.3H22.9M25.6 85.7H22.5M25.6 86.1H21.3M25.6 86.6H22.5M25.6 87.0H20.5M25.6 87.4H21.1M25.6 87.8H21.5M25.6 88.2H23.1M25.6 88.7H20.5M25.6 89.1H23.1M25.6 89.5H22.8M25.6 89.9H23.4M25.6 90.3H21.3M25.6 90.8H20.7M25.6 91.2H20.8M25.6 91.6H22.9M25.6 92.0H23.4M25.6 92.4H22.4M25.6 92.9H21.7M25.6 93.3H21.0M25.6 93.7H22.9M25.6 94.1H23.1M25.6 94.5H20.3M25.6 95.0H20.8M25.6 95.4H22.9M25.6 95.8H23.0M25.6 96.2H21.1M25.6 96.6H21.0M25.6 97.1H21.5M25.6 97.5H21.9M25.6 97.9H20.3M25.6 98.3H22.9M25.6 98.7H21.9M25.6 99.2H22.7M25.6 99.6H20.8M25.6 100.0H23.4M25.6 100.4H22.6M25.6 100.8H21.2M25.6 101.3H23.3M25.6 101.7H22.5M25.6 102.1H22.9M25.6 102.5H20.2M25.6 102.9H20.2M25.6 103.4H22.6M25.6 103.8H21.1M25.6 104.2H21.8M25.6 104.6H20.5M25.6 105.0H23.4M25.6 105.5H21.8M25.6 105.9H22.9M25.6 106.3H20.3M25.6 106.7H21.7M25.6 107.1H20.2M25.6 107.6H23.1M25.6 108.0H21.6M25.6 108.4H20.2M25.6 108.8H20.3M25.6 109.2H21.9M25.6 109.7H20.3M25.6 110.1H20.6M25.6 110.5H21.5M25.6 110.9H21.7M25.6 111.3H22.0M25.6 111.8H22.2M25.6 112.2H21.3M25.6 112.6H22.2M25.6 113.0H20.6M25.6 113.4H21.0M25.6 113.9H22.8M25.6 114.3H20.5M25.6 114.7H20.8M25.6 115.1H20.9M25.6 115.5H21.7M25.6 116.0H20.0M25.6 116.4H20.1M25.6 116.8H21.6M25.6 117.2H20.6M25.6 117.6H22.4M25.6 118.1H22.8M25.6 118.5H22.0M25.6 118.9H22.4M25.6 119.3H21.4M25.6 119.7H20.2M25.6 120.2H21.5M25.6 120.6H21.3M25.6 121.0H22.1M25.6 121.4H20.5M25.6 121.8H20.8M25.6 122.3H22.9M25.6 122.7H20.9M25.6 123.1H21.4M25.6 123.5H23.3M25.6 123.9H21.0M25.6 124.4H20.5M25.6 124.8H22.5M25.6 125.2H22.0M25.6 125.6H22.1M25.6 126.0H20.1M25.6 126.5H21.5M25.6 126.9H20.0M25.6 127.3H20.9M25.6 127.7H22.5M25.6 128.1H20.2M25.6 128.6H21.0M25.6 129.0H23.5M25.6 129.4H23.4M25.6 129.8H21.7M25.6 130.2H22.6M25.6 130.7H22.2M25.6 131.1H21.6M25.6 131.5H23.0M25.6 131.9H20.6M25.6 132.3H22.9M25.6 132.8H20.1M25.6 133.2H23.0M25.6 133.6H22.4M25.6 134.0H21.6M25.6 134.4H22.4M25.6 134.9H21.6M25.6 135.3H22.7M25.6 135.7H20.4M25.6 136.1H21.8M25.6 136.5H23.1M25.6 137.0H23.2M25.6 137.4H20.8M25.6 137.8H20.9M25.6 138.2H23.2M25.6 138.6H21.2M25.6 139.1H20.2M25.6 139.5H22.5M25.6 139.9H21.5M25.6 140.3H22.6M25.6 140.7H21.7M25.6 141.2H21.8M25.6 141.6H21.5M25.6 142.0H21.0M25.6 142.4H23.2M25.6 142.8H22.3M25.6 143.3H22.8M25.6 143.7H23.1M25.6 144.1H20.9M25.6 144.5H23.2M25.6 144.9H23.0M25.6 145.4H21.8M25.6 145.8H22.0M25.6 146.2H20.4M25.6 146.6H22.7M25.6 147.0H20.6M25.6 147.5H21.9M25.6 147.9H20.4M25.6 148.3H20.3M25.6 148.7H22.1M25.6 149.1H21.7M25.6 149.6H22.4M25.6 150.0H22.8M25.6 150.4H23.4M25.6 150.8H20.3M25.6 151.2H22.2M25.6 151.7H22.0M25.6 152.1H22.3M25.6 152.5H21.9M25.6 152.9H22.0M25.6 153.3H23.0M25.6 153.8H21.6M25.6 154.2H21.9M25.6 154.6H22.4M25.6 155.0H20.3M25.6 155.4H21.5M25.6 155.9H20.4M25.6 156.3H20.5M25.6 156.7H20.0M25.6 157.1H20.7M25.6 157.5H20.8M25.6 158.0H21.8M25.6 158.4H22.0M25.6 158.8H22.9M25.6 159.2H21.7M25.6 159.6H23.1M25.6 160.1H21.4M25.6 160.5H22.6M25.6 160.9H21.9M25.6 161.3H22.2M25.6 161.7H20.9M25.6 162.2H23.3M25.6 162.6H22.7M25.6 163.0H20.5M25.6 163.4H21.9M25.6 163.8H23.5M25.6 164.3H20.2M25.6 164.7H21.1M25.6 165.1H22.6M25.6 165.5H20.1M25.6 165.9H22.6M25.6 166.4H22.0M25.6 166.8H22.6M25.6 167.2H21.9M25.6 167.6H23.3M25.6 168.0H21.2M25.6 168.5H22.0M25.6 168.9H20.2M25.6 169.3H21.9" stroke="#000" stroke-width="0.6" fill="none"/>
<path d="M22 24.6H15.9M22 25.7H19.6M22 26.4H13.3M22 27.2H14.3M22 28.2H16.8M22 29.1H16.3M22 29.8H15.7M22 30.9H18.7M22 31.8H14.4M22 32.9H16.0M22 33.8H14.4M22 34.7H15.4M22 35.5H13.2M22 36.5H14.2M22 37.4H17.3M22 38.4H15.0M22 39.2H18.3M22 40.1H14.1M22 41.2H13.1M22 42.2H15.0M22 43.1H19.8M22 43.9H18.0M22 44.8H19.4M22 45.8H16.4M22 46.5H15.5M22 47.4H15.0M22 48.3H14.5M22 49.2H16.7M22 50.2H18.2M22 51.2H16.0M22 52.1H19.1M22 52.9H18.2M22 54.0H19.5M22 54.9H15.1M22 55.9H17.8M22 56.8H15.4M22 57.7H13.6M22 58.5H14.0M22 59.5H19.7M22 60.2H13.2M22 61.2H15.5M22 62.1H13.4M22 62.9H17.9M22 63.8H19.0M22 64.9H15.5M22 65.9H16.1M22 66.8H15.7M22 67.9H17.4M22 68.6H17.9M22 69.7H19.3M22 70.6H13.1M22 71.7H19.5M22 72.6H16.0M22 73.5H18.2M22 74.2H18.5M22 75.1H13.5M22 76.2H15.7M22 76.9H14.2M22 78.0H14.2M22 79.0H18.6M22 79.7H16.0M22 80.7H16.4M22 81.8H15.7M22 82.7H14.5M22 83.8H18.9M22 84.7H15.3M22 85.5H17.2M22 86.3H16.6M22 87.1H15.4M22 87.9H18.8M22 88.7H14.7M22 89.5H13.1M22 90.3H18.9M22 91.4H16.4M22 92.3H19.1M22 93.2H16.8M22 94.1H13.6M22 95.2H13.7M22 96.1H19.5M22 97.0H15.4M22 98.0H19.3M22 98.9H13.4M22 100.0H13.1M22 101.0H19.3M22 101.7H16.7M22 102.7H14.2M22 103.5H13.5M22 104.3H13.8M22 105.1H18.3M22 106.1H18.3M22 107.0H18.6M22 107.8H16.9M22 108.5H16.4M22 109.5H16.3M22 110.3H14.9M22 111.2H19.4M22 112.3H18.2M22 113.4H18.3M22 114.2H16.0M22 115.2H18.0M22 116.2H16.4M22 116.9H19.7M22 117.7H19.9M22 118.5H19.9M22 119.3H18.7M22 120.0H16.1M22 120.8H17.9M22 121.8H16.2M22 122.8H19.8M22 123.5H16.9M22 124.5H17.4M22 125.3H19.1M22 126.1H18.9M22 127.0H14.0M22 128.0H13.5M22 129.0H17.2M22 130.1H18.6M22 130.9H13.9M22 131.7H13.0M22 132.7H13.6M22 133.5H14.7M22 134.3H17.8M22 135.2H16.5M22 135.9H15.4M22 136.7H18.2M22 137.4H17.3M22 138.4H16.5M22 139.1H14.8M22 139.9H14.9M22 140.7H19.8M22 141.7H19.2M22 142.7H15.4M22 143.8H16.4M22 144.6H18.1M22 145.4H18.8M22 146.4H15.0M22 147.3H18.0M22 148.2H16.7M22 149.0H15.3M22 150.0H16.2M22 151.0H17.8M22 151.8H13.7M22 152.8H15.5M22 153.7H13.9M22 154.5H16.0M22 155.4H13.8M22 156.4H19.0M22 157.4H18.2M22 158.2H13.7M22 159.0H13.9M22 159.9H18.3M22 160.7H19.0M22 161.6H14.1M22 162.6H16.1M22 163.4H16.6M22 164.5H18.3M22 165.3H19.5M22 166.1H15.9M22 166.9H19.9M22 167.6H17.5M22 168.5H14.1M22 169.5H18.7" stroke="#111" stroke-width="0.4" fill="none"/>
<g fill="none" stroke="#333" stroke-width="0.4">
<path d="M4.5 52H2.2V140H4.5"/>
<path d="M8.8 39.0H4.5V80.8H7.2"/>
<path d="M12.3 34.1H8.8V47.9H10.6"/>
<path d="M15.7 30.5H12.3V39.4H15.3"/>
<path d="M18.8 28.1H15.7V33.4H17.4"/>
<path d="M20.0 27.2H18.8V30.1H20.0"/>
<path d="M20.0 25.8H20.0V27.8H20.0"/>
<path d="M20.0 27.1H20.0V28.4H20.0"/>
<path d="M19.9 32.2H17.4V34.5H19.9"/>
<path d="M20.0 33.9H19.9V35.2H20.0"/>
<path d="M17.9 37.9H15.3V41.4H18.2"/>
<path d="M19.6 36.6H17.9V38.6H20.0"/>
<path d="M20.0 37.9H20.0V39.2H20.0"/>
<path d="M19.8 40.9H18.2V42.4H20.0"/>
<path d="M13.8 44.5H10.6V49.4H13.3"/>
<path d="M18.8 43.6H13.8V45.1H17.4"/>
<path d="M17.9 48.3H13.3V51.7H16.0"/>
<path d="M20.0 47.3H17.9V49.6H20.0"/>
<path d="M20.0 46.7H20.0V48.0H20.0"/>
<path d="M20.0 51.0H16.0V52.1H19.9"/>
<path d="M9.5 68.5H7.2V96.5H11.5"/>
<path d="M11.5 61.2H9.5V76.8H11.6"/>
<path d="M16.4 57.4H11.5V65.7H15.0"/>
<path d="M20.0 54.8H16.4V59.3H18.6"/>
<path d="M20.0 53.9H20.0V55.8H20.0"/>
<path d="M20.0 58.0H18.6V60.7H20.0"/>
<path d="M20.0 57.5H20.0V58.8H20.0"/>
<path d="M20.0 59.9H20.0V61.2H20.0"/>
<path d="M17.1 64.0H15.0V67.8H19.0"/>
<path d="M20.0 63.0H17.1V65.1H18.8"/>
<path d="M20.0 67.1H19.0V68.8H20.0"/>
<path d="M16.3 72.1H11.6V79.4H15.0"/>
<path d="M20.0 70.6H16.3V73.2H20.0"/>
<path d="M20.0 72.2H20.0V73.7H20.0"/>
<path d="M16.6 77.9H15.0V82.6H18.3"/>
<path d="M20.0 76.6H16.6V79.8H20.0"/>
<path d="M20.0 75.8H20.0V77.6H20.0"/>
<path d="M20.0 78.9H20.0V80.2H20.0"/>
<path d="M20.0 81.5H18.3V83.1H20.0"/>
<path d="M13.1 91.1H11.5V103.4H15.4"/>
<path d="M17.5 87.2H13.1V94.1H15.2"/>
<path d="M19.3 85.5H17.5V88.5H19.1"/>
<path d="M20.0 84.7H19.3V86.0H20.0"/>
<path d="M20.0 87.5H19.1V89.2H20.0"/>
<path d="M17.7 92.9H15.2V96.8H17.4"/>
<path d="M19.5 92.1H17.7V94.7H20.0"/>
<path d="M20.0 91.5H19.5V93.3H20.0"/>
<path d="M19.9 96.1H17.4V97.4H19.1"/>
<path d="M18.7 100.5H15.4V105.8H17.8"/>
<path d="M20.0 99.7H18.7V102.1H20.0"/>
<path d="M20.0 98.9H20.0V100.6H20.0"/>
<path d="M20.0 104.2H17.8V107.1H20.0"/>
<path d="M20.0 103.6H20.0V104.9H20.0"/>
<path d="M20.0 106.4H20.0V108.1H20.0"/>
<path d="M8.8 120.8H4.5V150.7H7.2"/>
<path d="M10.9 117.0H8.8V129.1H12.8"/>
<path d="M15.4 114.1H10.9V122.3H14.2"/>
<path d="M18.0 111.5H15.4V116.8H19.9"/>
<path d="M20.0 110.5H18.0V113.2H20.0"/>
<path d="M20.0 109.9H20.0V111.6H20.0"/>
<path d="M20.0 109.2H20.0V110.3H20.0"/>
<path d="M20.0 115.6H19.9V118.2H20.0"/>
<path d="M20.0 115.1H20.0V116.4H20.0"/>
<path d="M20.0 117.5H20.0V118.7H20.0"/>
<path d="M15.7 121.4H14.2V124.3H15.9"/>
<path d="M20.0 120.3H15.7V122.3H18.9"/>
<path d="M15.5 127.8H12.8V131.6H16.0"/>
<path d="M19.3 126.9H15.5V129.4H18.1"/>
<path d="M20.0 126.0H19.3V127.7H20.0"/>
<path d="M18.3 130.8H16.0V132.1H20.0"/>
<path d="M9.4 139.7H7.2V157.6H9.7"/>
<path d="M14.3 137.7H9.4V144.5H12.5"/>
<path d="M17.4 134.7H14.3V139.5H18.9"/>
<path d="M20.0 133.9H17.4V135.7H20.0"/>
<path d="M20.0 138.4H18.9V141.3H20.0"/>
<path d="M20.0 137.2H20.0V139.1H20.0"/>
<path d="M20.0 138.6H20.0V139.7H20.0"/>
<path d="M17.3 143.8H12.5V145.9H16.4"/>
<path d="M19.6 143.4H17.3V144.8H20.0"/>
<path d="M14.7 154.3H9.7V165.3H14.0"/>
<path d="M18.4 150.7H14.7V158.4H17.6"/>
<path d="M20.0 148.2H18.4V152.3H20.0"/>
<path d="M20.0 147.3H20.0V148.9H20.0"/>
<path d="M20.0 150.7H20.0V153.2H20.0"/>
<path d="M20.0 152.3H20.0V153.9H20.0"/>
<path d="M20.0 157.2H17.6V160.8H20.0"/>
<path d="M20.0 156.3H20.0V158.8H20.0"/>
<path d="M20.0 155.7H20.0V157.2H20.0"/>
<path d="M20.0 160.2H20.0V161.4H20.0"/>
<path d="M16.3 163.5H14.0V166.8H16.1"/>
<path d="M20.0 162.8H16.3V164.3H18.1"/>
<path d="M19.7 166.0H16.1V167.8H20.0"/>
</g>
<g fill="none" stroke="#222" stroke-width="0.5">
<path d="M50.0 24.2V19.5H62.9V24.2"/>
<path d="M37.1 24.2V15.5H56.5V19.5"/>
<path d="M88.8 24.2V19.5H101.7V24.2"/>
<path d="M75.9 24.2V15.5H95.3V19.5"/>
<path d="M127.6 24.2V20H140.5V24.2"/>
<path d="M114.7 24.2V15.5H134.1V20"/>
<path d="M85.6 15.5V11H124.4V15.5"/>
<path d="M46.8 15.5V7H105.0V11"/>
</g>
<rect x="32.50" y="171.70" width="35.50" height="2.00" fill="#1f6fb5"/>
<rect x="70.00" y="171.70" width="34.50" height="2.00" fill="#f5a623"/>
<rect x="110.50" y="171.70" width="36.50" height="2.00" fill="#8cc63f"/>
<text x="50.50" y="185.00" font-size="8.2" text-anchor="middle" textLength="12.32" lengthAdjust="spacingAndGlyphs" stroke="#111" stroke-width="0.16">Ctrl.</text>
<text x="71.00" y="185.00" font-size="8.2" textLength="22.24" lengthAdjust="spacingAndGlyphs" stroke="#111" stroke-width="0.16">SAHA+</text>
<text x="71.00" y="194.30" font-size="8.2" textLength="32.14" lengthAdjust="spacingAndGlyphs" stroke="#111" stroke-width="0.16">GDC-0941</text>
<text x="109.00" y="185.80" font-size="8.2" textLength="30.65" lengthAdjust="spacingAndGlyphs" stroke="#111" stroke-width="0.16">BEBT-908</text>
<defs><linearGradient id="cs" x1="0" x2="0" y1="0" y2="1"><stop offset="0" stop-color="#ec1c26"/><stop offset="0.26" stop-color="#d2181f"/><stop offset="0.42" stop-color="#1a1412"/><stop offset="0.62" stop-color="#141a12"/><stop offset="0.82" stop-color="#35a544"/><stop offset="1" stop-color="#55c858"/></linearGradient></defs>
<rect x="152.80" y="24.20" width="6.00" height="52.40" fill="url(#cs)"/>
<text x="167.40" y="26.50" font-size="4.2" text-anchor="end" font-weight="700" fill="#222" textLength="5.55" lengthAdjust="spacingAndGlyphs">2.0</text>
<line x1="158.80" y1="25.00" x2="160.00" y2="25.00" stroke="#333" stroke-width="0.35"/>
<text x="167.40" y="36.90" font-size="4.2" text-anchor="end" font-weight="700" fill="#222" textLength="5.55" lengthAdjust="spacingAndGlyphs">1.8</text>
<line x1="158.80" y1="35.40" x2="160.00" y2="35.40" stroke="#333" stroke-width="0.35"/>
<text x="167.40" y="47.10" font-size="4.2" text-anchor="end" font-weight="700" fill="#222" textLength="5.55" lengthAdjust="spacingAndGlyphs">0.6</text>
<line x1="158.80" y1="45.60" x2="160.00" y2="45.60" stroke="#333" stroke-width="0.35"/>
<text x="167.40" y="57.30" font-size="4.2" text-anchor="end" font-weight="700" fill="#222" textLength="6.87" lengthAdjust="spacingAndGlyphs">-0.6</text>
<line x1="158.80" y1="55.80" x2="160.00" y2="55.80" stroke="#333" stroke-width="0.35"/>
<text x="167.40" y="67.90" font-size="4.2" text-anchor="end" font-weight="700" fill="#222" textLength="6.87" lengthAdjust="spacingAndGlyphs">-1.8</text>
<line x1="158.80" y1="66.40" x2="160.00" y2="66.40" stroke="#333" stroke-width="0.35"/>
<text x="167.40" y="78.10" font-size="4.2" text-anchor="end" font-weight="700" fill="#222" textLength="6.87" lengthAdjust="spacingAndGlyphs">-2.0</text>
<line x1="158.80" y1="76.60" x2="160.00" y2="76.60" stroke="#333" stroke-width="0.35"/>
<text x="159.30" y="113.00" font-size="5.6" font-weight="700" transform="rotate(-90 159.30 113.00)" textLength="10.30" lengthAdjust="spacingAndGlyphs">Log</text>
<text x="160.60" y="102.30" font-size="3.4" font-weight="700" transform="rotate(-90 160.60 102.30)" textLength="3.30" lengthAdjust="spacingAndGlyphs">10</text>
<text x="159.30" y="97.80" font-size="4.9" font-weight="700" transform="rotate(-90 159.30 97.80)" textLength="14.20" lengthAdjust="spacingAndGlyphs">(value)</text>
<text x="174.50" y="11.30" font-size="12.8" font-weight="700" fill="#000" textLength="9.24" lengthAdjust="spacingAndGlyphs" stroke="#000" stroke-width="0.35">B</text>
<defs><clipPath id="vB"><circle cx="231.25" cy="92.2" r="36.4"/></clipPath><clipPath id="vO"><circle cx="212.8" cy="60" r="36.6"/></clipPath></defs>
<circle cx="231.25" cy="92.20" r="36.40" fill="#cfe7f3"/>
<circle cx="212.80" cy="60.00" r="36.60" fill="#f5ad86"/>
<circle cx="248.80" cy="60.60" r="36.20" fill="#f9ef9e"/>
<clipPath id="vY"><circle cx="248.8" cy="60.6" r="36.2"/></clipPath>
<g clip-path="url(#vB)">
<circle cx="212.80" cy="60.00" r="36.60" fill="#d09c7c"/>
<circle cx="248.80" cy="60.60" r="36.20" fill="#e0e890"/>
</g>
<g clip-path="url(#vO)">
<circle cx="248.80" cy="60.60" r="36.20" fill="#f2ba50"/>
<g clip-path="url(#vB)">
<circle cx="248.80" cy="60.60" r="36.20" fill="#e8b255"/>
</g></g>
<g fill="none" stroke="#66664e" stroke-width="0.55">
<circle cx="231.25" cy="92.20" r="36.40" fill="none"/>
<circle cx="212.80" cy="60.00" r="36.60" fill="none"/>
<circle cx="248.80" cy="60.60" r="36.20" fill="none"/>
</g>
<text x="196.00" y="54.80" font-size="6.8" text-anchor="middle" fill="#1a1a1a" textLength="10.89" lengthAdjust="spacingAndGlyphs" stroke="#1a1a1a" stroke-width="0.16">256</text>
<text x="231.30" y="48.40" font-size="6.8" text-anchor="middle" fill="#1a1a1a" textLength="16.33" lengthAdjust="spacingAndGlyphs" stroke="#1a1a1a" stroke-width="0.16">1,479</text>
<text x="265.00" y="54.40" font-size="6.8" text-anchor="middle" fill="#1a1a1a" textLength="16.33" lengthAdjust="spacingAndGlyphs" stroke="#1a1a1a" stroke-width="0.16">1,504</text>
<text x="231.30" y="71.50" font-size="6.8" text-anchor="middle" fill="#1a1a1a" textLength="16.33" lengthAdjust="spacingAndGlyphs" stroke="#1a1a1a" stroke-width="0.16">1,621</text>
<text x="208.00" y="88.00" font-size="6.8" text-anchor="middle" fill="#1a1a1a" textLength="10.89" lengthAdjust="spacingAndGlyphs" stroke="#1a1a1a" stroke-width="0.16">573</text>
<text x="253.80" y="89.00" font-size="6.8" text-anchor="middle" fill="#1a1a1a" textLength="16.33" lengthAdjust="spacingAndGlyphs" stroke="#1a1a1a" stroke-width="0.16">2,442</text>
<text x="230.60" y="111.10" font-size="6.8" text-anchor="middle" fill="#1a1a1a" textLength="10.89" lengthAdjust="spacingAndGlyphs" stroke="#1a1a1a" stroke-width="0.16">742</text>
<rect x="180.00" y="137.00" width="8.80" height="8.20" fill="#f5ad86"/>
<rect x="180.00" y="148.50" width="8.80" height="8.50" fill="#cfe7f3"/>
<rect x="180.00" y="160.00" width="8.80" height="8.50" fill="#f9ef9e"/>
<text x="193.00" y="145.90" font-size="8.2" textLength="55.80" lengthAdjust="spacingAndGlyphs" stroke="#111" stroke-width="0.16">Ctrl. vs. BEBT-908</text>
<text x="193.00" y="158.00" font-size="8.2" textLength="97.00" lengthAdjust="spacingAndGlyphs" stroke="#111" stroke-width="0.16">BEBT-908 vs. SAHA+GDC-0941</text>
<text x="193.00" y="169.00" font-size="8.2" textLength="79.00" lengthAdjust="spacingAndGlyphs" stroke="#111" stroke-width="0.16">Ctrl. vs. SAHA+GDC-0941</text>
<text x="288.50" y="11.30" font-size="12.8" font-weight="700" fill="#000" textLength="9.24" lengthAdjust="spacingAndGlyphs" stroke="#000" stroke-width="0.35">C</text>
<text x="323.80" y="21.50" font-size="6.8" textLength="153.20" lengthAdjust="spacingAndGlyphs" stroke="#111" stroke-width="0.16">KEGG pathway enriched in BEBT-908 treated cells</text>
<rect x="387.60" y="33.80" width="88.70" height="118.70" fill="#fff" stroke="#1a1a1a" stroke-width="1.0"/>
<text x="384.30" y="40.50" font-size="8.2" text-anchor="end" textLength="96.05" lengthAdjust="spacingAndGlyphs" stroke="#111" stroke-width="0.16">Arginine and proline metabolism</text>
<text x="384.30" y="50.77" font-size="8.2" text-anchor="end" textLength="51.57" lengthAdjust="spacingAndGlyphs" stroke="#111" stroke-width="0.16">ABC transporters</text>
<text x="384.30" y="61.04" font-size="8.2" text-anchor="end" fill="#d4323f" textLength="33.63" lengthAdjust="spacingAndGlyphs" stroke="#d4323f" stroke-width="0.16">Ferroptosis</text>
<text x="384.30" y="71.31" font-size="8.2" text-anchor="end" fill="#d4323f" textLength="66.54" lengthAdjust="spacingAndGlyphs" stroke="#d4323f" stroke-width="0.16">p53 signaling pathway</text>
<text x="384.30" y="81.58" font-size="8.2" text-anchor="end" textLength="67.27" lengthAdjust="spacingAndGlyphs" stroke="#111" stroke-width="0.16">Wnt signaling pathway</text>
<text x="384.30" y="91.85" font-size="8.2" text-anchor="end" textLength="74.99" lengthAdjust="spacingAndGlyphs" stroke="#111" stroke-width="0.16">mTOR signaling pathway</text>
<text x="384.30" y="102.12" font-size="8.2" text-anchor="end" textLength="60.54" lengthAdjust="spacingAndGlyphs" stroke="#111" stroke-width="0.16">Base excision repair</text>
<text x="384.30" y="112.39" font-size="8.2" text-anchor="end" textLength="51.95" lengthAdjust="spacingAndGlyphs" stroke="#111" stroke-width="0.16">Insulin resistance</text>
<text x="384.30" y="122.66" font-size="8.2" text-anchor="end" textLength="70.25" lengthAdjust="spacingAndGlyphs" stroke="#111" stroke-width="0.16">Cholesterol metabolism</text>
<text x="384.30" y="132.93" font-size="8.2" text-anchor="end" fill="#d4323f" textLength="70.63" lengthAdjust="spacingAndGlyphs" stroke="#d4323f" stroke-width="0.16">Glutathione metabolism</text>
<text x="384.30" y="143.20" font-size="8.2" text-anchor="end" textLength="87.82" lengthAdjust="spacingAndGlyphs" stroke="#111" stroke-width="0.16">Aminoacyl-tRNA biosynthesis</text>
<text x="384.30" y="153.47" font-size="8.2" text-anchor="end" textLength="63.54" lengthAdjust="spacingAndGlyphs" stroke="#111" stroke-width="0.16">Arginine biosynthesis</text>
<circle cx="471.75" cy="39.50" r="3.40" fill="#b4dcf3" stroke="#86c0e3" stroke-width="0.85"/>
<circle cx="460.25" cy="50.00" r="3.40" fill="#b4dcf3" stroke="#86c0e3" stroke-width="0.85"/>
<circle cx="467.75" cy="59.50" r="3.40" fill="#b0daf3" stroke="#80bde3" stroke-width="0.85"/>
<circle cx="423.75" cy="69.25" r="3.50" fill="#d3cfde" stroke="#aaa5be" stroke-width="0.85"/>
<circle cx="398.00" cy="79.50" r="4.20" fill="#d5d2dc" stroke="#aeaabd" stroke-width="0.85"/>
<circle cx="393.00" cy="88.75" r="4.20" fill="#e2ccd4" stroke="#c2a3b0" stroke-width="0.85"/>
<circle cx="444.25" cy="99.00" r="2.70" fill="#ebd0d5" stroke="#c99ba6" stroke-width="0.85"/>
<circle cx="398.25" cy="108.75" r="3.40" fill="#eac8ce" stroke="#c995a1" stroke-width="0.85"/>
<circle cx="432.00" cy="118.50" r="2.80" fill="#eac6cc" stroke="#c9939e" stroke-width="0.85"/>
<circle cx="409.75" cy="128.25" r="2.80" fill="#f5b8b8" stroke="#df7c80" stroke-width="0.85"/>
<circle cx="411.50" cy="138.00" r="2.80" fill="#f5b8b8" stroke="#df7c80" stroke-width="0.85"/>
<circle cx="423.50" cy="147.75" r="2.10" fill="#f8c0bc" stroke="#e8807a" stroke-width="0.85"/>
<line x1="399.30" y1="152.50" x2="399.30" y2="154.60" stroke="#222" stroke-width="0.7"/>
<text x="400.90" y="163.80" font-size="8.8" text-anchor="middle" textLength="14.04" lengthAdjust="spacingAndGlyphs" stroke="#111" stroke-width="0.16">0.02</text>
<line x1="430.00" y1="152.50" x2="430.00" y2="154.60" stroke="#222" stroke-width="0.7"/>
<text x="431.60" y="163.80" font-size="8.8" text-anchor="middle" textLength="14.04" lengthAdjust="spacingAndGlyphs" stroke="#111" stroke-width="0.16">0.03</text>
<line x1="460.80" y1="152.50" x2="460.80" y2="154.60" stroke="#222" stroke-width="0.7"/>
<text x="462.40" y="163.80" font-size="8.8" text-anchor="middle" textLength="14.04" lengthAdjust="spacingAndGlyphs" stroke="#111" stroke-width="0.16">0.04</text>
<text x="432.00" y="172.40" font-size="9.2" text-anchor="middle" textLength="32.80" lengthAdjust="spacingAndGlyphs" stroke="#111" stroke-width="0.16">Rich ratio</text>
<defs><linearGradient id="qv" x1="0" x2="0" y1="0" y2="1"><stop offset="0" stop-color="#2f86d6"/><stop offset="0.5" stop-color="#7d5f98"/><stop offset="1" stop-color="#e22b36"/></linearGradient></defs>
<rect x="486.30" y="40.00" width="5.50" height="59.50" fill="url(#qv)"/>
<text x="484.5" y="37.3" font-size="7.3" textLength="22" lengthAdjust="spacingAndGlyphs"><tspan font-style="italic">Q</tspan> Value</text>
<text x="493.80" y="52.00" font-size="8.6" textLength="9.80" lengthAdjust="spacingAndGlyphs" stroke="#111" stroke-width="0.16">0.4</text>
<line x1="490.50" y1="49.00" x2="491.80" y2="49.00" stroke="#fff" stroke-width="0.4"/>
<text x="493.80" y="66.30" font-size="8.6" textLength="9.80" lengthAdjust="spacingAndGlyphs" stroke="#111" stroke-width="0.16">0.5</text>
<line x1="490.50" y1="63.30" x2="491.80" y2="63.30" stroke="#fff" stroke-width="0.4"/>
<text x="493.80" y="80.80" font-size="8.6" textLength="9.80" lengthAdjust="spacingAndGlyphs" stroke="#111" stroke-width="0.16">0.6</text>
<line x1="490.50" y1="77.80" x2="491.80" y2="77.80" stroke="#fff" stroke-width="0.4"/>
<text x="493.80" y="95.50" font-size="8.6" textLength="9.80" lengthAdjust="spacingAndGlyphs" stroke="#111" stroke-width="0.16">0.7</text>
<line x1="490.50" y1="92.50" x2="491.80" y2="92.50" stroke="#fff" stroke-width="0.4"/>
<text x="483.80" y="111.30" font-size="7.3" textLength="36.50" lengthAdjust="spacingAndGlyphs" stroke="#111" stroke-width="0.16">Gene number</text>
<circle cx="487.50" cy="118.80" r="1.20" fill="#000"/>
<text x="493.30" y="121.80" font-size="8.6" textLength="3.92" lengthAdjust="spacingAndGlyphs" stroke="#111" stroke-width="0.16">1</text>
<circle cx="487.50" cy="127.50" r="1.70" fill="#000"/>
<text x="493.30" y="130.50" font-size="8.6" textLength="3.92" lengthAdjust="spacingAndGlyphs" stroke="#111" stroke-width="0.16">2</text>
<circle cx="487.50" cy="137.00" r="2.20" fill="#000"/>
<text x="493.30" y="140.00" font-size="8.6" textLength="3.92" lengthAdjust="spacingAndGlyphs" stroke="#111" stroke-width="0.16">3</text>
<circle cx="487.50" cy="146.30" r="2.70" fill="#000"/>
<text x="493.30" y="149.30" font-size="8.6" textLength="3.92" lengthAdjust="spacingAndGlyphs" stroke="#111" stroke-width="0.16">4</text>
<text x="0.50" y="211.10" font-size="12.8" font-weight="700" fill="#000" textLength="9.24" lengthAdjust="spacingAndGlyphs" stroke="#000" stroke-width="0.35">D</text>
<defs><filter id="b1" x="-30%" y="-80%" width="160%" height="260%"><feGaussianBlur stdDeviation="1.1 0.7"/></filter><filter id="b2" x="-30%" y="-80%" width="160%" height="260%"><feGaussianBlur stdDeviation="1.8 1.2"/></filter><linearGradient id="g1" x1="0" x2="1"><stop offset="0" stop-color="#5c5c5c"/><stop offset="0.22" stop-color="#8e8e8e"/><stop offset="0.45" stop-color="#a9a9a9"/><stop offset="1" stop-color="#a6a6a6"/></linearGradient></defs>
<clipPath id="c1"><rect x="22.6" y="253.8" width="88.7" height="18.7"/></clipPath>
<rect x="22.60" y="253.80" width="88.70" height="18.70" fill="url(#g1)"/>
<g clip-path="url(#c1)">
<ellipse cx="31.0" cy="260.0" rx="11.0" ry="6.0" fill="#222" opacity="0.55" filter="url(#b2)"/>
<ellipse cx="31.0" cy="268.8" rx="9.5" ry="3.5" fill="#0a0a0a" opacity="0.95" filter="url(#b2)"/>
<ellipse cx="55.0" cy="267.3" rx="6.0" ry="1.5" fill="#0a0a0a" opacity="0.38" filter="url(#b2)"/>
<ellipse cx="77.0" cy="267.0" rx="8.5" ry="2.4" fill="#0a0a0a" opacity="0.8" filter="url(#b1)"/>
<ellipse cx="77.0" cy="263.0" rx="7.5" ry="3.0" fill="#0a0a0a" opacity="0.18" filter="url(#b2)"/>
<ellipse cx="98.5" cy="266.5" rx="7.0" ry="2.3" fill="#0a0a0a" opacity="0.8" filter="url(#b1)"/>
<ellipse cx="98.5" cy="262.5" rx="6.5" ry="3.0" fill="#0a0a0a" opacity="0.18" filter="url(#b2)"/>
<rect x="22.60" y="253.40" width="88.70" height="2.40" fill="#555" opacity="0.5" filter="url(#b1)"/>
</g>
<rect x="22.60" y="253.80" width="88.70" height="18.70" fill="none" stroke="#1c1c1c" stroke-width="1.1"/>
<clipPath id="c2"><rect x="22.6" y="275" width="88.7" height="18.8"/></clipPath>
<rect x="22.60" y="275.00" width="88.70" height="18.80" fill="#cbcbcb"/>
<g clip-path="url(#c2)">
<rect x="22.60" y="274.60" width="88.70" height="3.00" fill="#888" opacity="0.5" filter="url(#b1)"/>
<ellipse cx="33.0" cy="285.0" rx="9.5" ry="1.8" fill="#0a0a0a" opacity="0.95" filter="url(#b1)"/>
<ellipse cx="52.5" cy="285.0" rx="5.8" ry="1.3" fill="#0a0a0a" opacity="0.8" filter="url(#b1)"/>
<ellipse cx="66.0" cy="287.6" rx="7.5" ry="1.3" fill="#0a0a0a" opacity="0.42" filter="url(#b1)"/>
<ellipse cx="80.0" cy="288.0" rx="4.0" ry="1.0" fill="#0a0a0a" opacity="0.15" filter="url(#b1)"/>
<ellipse cx="99.5" cy="284.2" rx="7.5" ry="1.9" fill="#0a0a0a" opacity="0.95" filter="url(#b1)"/>
</g>
<rect x="22.60" y="275.00" width="88.70" height="18.80" fill="none" stroke="#1c1c1c" stroke-width="1.1"/>
<clipPath id="c3"><rect x="22.6" y="295.8" width="88.7" height="18"/></clipPath>
<rect x="22.60" y="295.80" width="88.70" height="18.00" fill="#c9c9c9"/>
<g clip-path="url(#c3)">
<rect x="25.00" y="295.80" width="16.00" height="18.00" fill="#8a8a8a" opacity="0.28" filter="url(#b2)"/>
<rect x="46.50" y="295.80" width="16.00" height="18.00" fill="#8a8a8a" opacity="0.28" filter="url(#b2)"/>
<rect x="69.00" y="295.80" width="16.00" height="18.00" fill="#8a8a8a" opacity="0.28" filter="url(#b2)"/>
<rect x="91.00" y="295.80" width="16.00" height="18.00" fill="#8a8a8a" opacity="0.28" filter="url(#b2)"/>
<ellipse cx="33.0" cy="306.4" rx="8.0" ry="2.6" fill="#0a0a0a" opacity="0.97" filter="url(#b1)"/>
<ellipse cx="33.0" cy="310.8" rx="7.0" ry="1.2" fill="#0a0a0a" opacity="0.55" filter="url(#b1)"/>
<ellipse cx="54.5" cy="306.3" rx="7.0" ry="2.1" fill="#0a0a0a" opacity="0.33" filter="url(#b2)"/>
<ellipse cx="77.0" cy="306.0" rx="7.0" ry="2.1" fill="#0a0a0a" opacity="0.33" filter="url(#b2)"/>
<ellipse cx="99.0" cy="306.3" rx="7.0" ry="2.1" fill="#0a0a0a" opacity="0.36" filter="url(#b2)"/>
</g>
<rect x="22.60" y="295.80" width="88.70" height="18.00" fill="none" stroke="#1c1c1c" stroke-width="1.1"/>
<clipPath id="c4"><rect x="22.6" y="315.8" width="88.7" height="17.5"/></clipPath>
<rect x="22.60" y="315.80" width="88.70" height="17.50" fill="#d0d0d0"/>
<g clip-path="url(#c4)">
<rect x="22.60" y="315.40" width="88.70" height="2.60" fill="#999" opacity="0.5" filter="url(#b1)"/>
<ellipse cx="34.5" cy="326.4" rx="8.5" ry="2.4" fill="#0a0a0a" opacity="0.95" filter="url(#b1)"/>
<ellipse cx="57.0" cy="326.4" rx="10.0" ry="3.0" fill="#0a0a0a" opacity="0.97" filter="url(#b1)"/>
<ellipse cx="79.5" cy="326.4" rx="9.0" ry="2.5" fill="#0a0a0a" opacity="0.95" filter="url(#b1)"/>
<ellipse cx="100.0" cy="326.4" rx="7.8" ry="2.6" fill="#0a0a0a" opacity="0.95" filter="url(#b1)"/>
</g>
<rect x="22.60" y="315.80" width="88.70" height="17.50" fill="none" stroke="#1c1c1c" stroke-width="1.1"/>
<text x="113.80" y="265.90" font-size="8.2" textLength="28.28" lengthAdjust="spacingAndGlyphs" stroke="#111" stroke-width="0.16">SLC7A11</text>
<text x="113.80" y="287.20" font-size="8.2" textLength="17.94" lengthAdjust="spacingAndGlyphs" stroke="#111" stroke-width="0.16">GPX4</text>
<text x="113.80" y="307.90" font-size="8.2" textLength="12.70" lengthAdjust="spacingAndGlyphs" stroke="#111" stroke-width="0.16">Nrf2</text>
<text x="113.80" y="327.70" font-size="8.2" textLength="23.91" lengthAdjust="spacingAndGlyphs" stroke="#111" stroke-width="0.16">GAPDH</text>
<text x="34.50" y="251.50" font-size="8.3" transform="rotate(-45 34.50 251.50)" textLength="12.48" lengthAdjust="spacingAndGlyphs" stroke="#111" stroke-width="0.16">Ctrl.</text>
<text x="54.50" y="252.00" font-size="8.3" transform="rotate(-45 54.50 252.00)" textLength="55.04" lengthAdjust="spacingAndGlyphs" stroke="#111" stroke-width="0.16">SAHA+GDC-0941</text>
<text x="77.50" y="251.00" font-size="8.3" transform="rotate(-45 77.50 251.00)" textLength="31.02" lengthAdjust="spacingAndGlyphs" stroke="#111" stroke-width="0.16">BEBT-908</text>
<text x="101.50" y="251.00" font-size="8.3" transform="rotate(-45 101.50 251.00)" textLength="21.18" lengthAdjust="spacingAndGlyphs" stroke="#111" stroke-width="0.16">Erastin</text>
<text x="146.20" y="211.10" font-size="12.8" font-weight="700" fill="#000" textLength="8.54" lengthAdjust="spacingAndGlyphs" stroke="#000" stroke-width="0.35">E</text>
<path d="M177.35 308.75V283.60H185.15V308.75" fill="none" stroke="#000" stroke-width="1.2"/>
<line x1="181.25" y1="282.20" x2="181.25" y2="283.80" stroke="#000" stroke-width="0.8"/>
<line x1="179.35" y1="282.20" x2="183.15" y2="282.20" stroke="#000" stroke-width="0.8"/>
<line x1="179.35" y1="283.80" x2="183.15" y2="283.80" stroke="#000" stroke-width="0.8"/>
<circle cx="180.20" cy="282.60" r="1.25" fill="none" stroke="#000" stroke-width="0.85"/>
<circle cx="182.30" cy="281.60" r="1.25" fill="none" stroke="#000" stroke-width="0.85"/>
<circle cx="183.80" cy="281.20" r="1.25" fill="none" stroke="#000" stroke-width="0.85"/>
<circle cx="181.50" cy="283.40" r="1.25" fill="none" stroke="#000" stroke-width="0.85"/>
<path d="M189.85 308.75V261.10H197.40V308.75" fill="none" stroke="#9fcf4a" stroke-width="1.2"/>
<line x1="193.62" y1="255.80" x2="193.62" y2="265.20" stroke="#9fcf4a" stroke-width="0.8"/>
<line x1="191.72" y1="255.80" x2="195.53" y2="255.80" stroke="#9fcf4a" stroke-width="0.8"/>
<line x1="191.72" y1="265.20" x2="195.53" y2="265.20" stroke="#9fcf4a" stroke-width="0.8"/>
<circle cx="190.60" cy="252.60" r="1.25" fill="none" stroke="#9fcf4a" stroke-width="0.85"/>
<circle cx="196.80" cy="252.40" r="1.25" fill="none" stroke="#9fcf4a" stroke-width="0.85"/>
<circle cx="193.00" cy="261.20" r="1.25" fill="none" stroke="#9fcf4a" stroke-width="0.85"/>
<circle cx="193.00" cy="270.50" r="1.25" fill="none" stroke="#9fcf4a" stroke-width="0.85"/>
<path d="M201.85 308.75V251.85H209.40V308.75" fill="none" stroke="#e83a2e" stroke-width="1.2"/>
<line x1="205.62" y1="244.45" x2="205.62" y2="258.05" stroke="#e83a2e" stroke-width="0.8"/>
<line x1="203.72" y1="244.45" x2="207.53" y2="244.45" stroke="#e83a2e" stroke-width="0.8"/>
<line x1="203.72" y1="258.05" x2="207.53" y2="258.05" stroke="#e83a2e" stroke-width="0.8"/>
<circle cx="202.60" cy="239.00" r="1.25" fill="none" stroke="#e83a2e" stroke-width="0.85"/>
<circle cx="208.60" cy="238.40" r="1.25" fill="none" stroke="#e83a2e" stroke-width="0.85"/>
<circle cx="208.40" cy="261.80" r="1.25" fill="none" stroke="#e83a2e" stroke-width="0.85"/>
<circle cx="202.40" cy="264.00" r="1.25" fill="none" stroke="#e83a2e" stroke-width="0.85"/>
<path d="M213.85 308.75V269.85H221.40V308.75" fill="none" stroke="#a653ad" stroke-width="1.2"/>
<line x1="217.62" y1="267.05" x2="217.62" y2="271.45" stroke="#a653ad" stroke-width="0.8"/>
<line x1="215.72" y1="267.05" x2="219.53" y2="267.05" stroke="#a653ad" stroke-width="0.8"/>
<line x1="215.72" y1="271.45" x2="219.53" y2="271.45" stroke="#a653ad" stroke-width="0.8"/>
<circle cx="217.60" cy="261.40" r="1.25" fill="none" stroke="#a653ad" stroke-width="0.85"/>
<circle cx="214.80" cy="269.20" r="1.25" fill="none" stroke="#a653ad" stroke-width="0.85"/>
<circle cx="220.20" cy="268.80" r="1.25" fill="none" stroke="#a653ad" stroke-width="0.85"/>
<circle cx="217.20" cy="271.20" r="1.25" fill="none" stroke="#a653ad" stroke-width="0.85"/>
<line x1="173.00" y1="228.25" x2="173.00" y2="309.25" stroke="#000" stroke-width="1.25"/>
<line x1="172.50" y1="308.75" x2="224.00" y2="308.75" stroke="#000" stroke-width="1.25"/>
<line x1="170.40" y1="308.75" x2="173.00" y2="308.75" stroke="#000" stroke-width="1.125"/>
<text x="169.40" y="311.81" font-size="8.5" text-anchor="end" fill="#000" textLength="3.88" lengthAdjust="spacingAndGlyphs" stroke="#000" stroke-width="0.16">0</text>
<line x1="170.40" y1="282.00" x2="173.00" y2="282.00" stroke="#000" stroke-width="1.125"/>
<text x="169.40" y="285.06" font-size="8.5" text-anchor="end" fill="#000" textLength="3.88" lengthAdjust="spacingAndGlyphs" stroke="#000" stroke-width="0.16">1</text>
<line x1="170.40" y1="255.50" x2="173.00" y2="255.50" stroke="#000" stroke-width="1.125"/>
<text x="169.40" y="258.56" font-size="8.5" text-anchor="end" fill="#000" textLength="3.88" lengthAdjust="spacingAndGlyphs" stroke="#000" stroke-width="0.16">2</text>
<line x1="170.40" y1="228.75" x2="173.00" y2="228.75" stroke="#000" stroke-width="1.125"/>
<text x="169.40" y="231.81" font-size="8.5" text-anchor="end" fill="#000" textLength="3.88" lengthAdjust="spacingAndGlyphs" stroke="#000" stroke-width="0.16">3</text>
<text x="161.35" y="267.50" font-size="8.3" text-anchor="middle" transform="rotate(-90 161.35 267.50)" textLength="80.00" lengthAdjust="spacingAndGlyphs" stroke="#111" stroke-width="0.16">Relative TRFC expression</text>
<line x1="176.20" y1="218.00" x2="228.00" y2="218.00" stroke="#000" stroke-width="1.3"/>
<text x="200.00" y="217.90" font-size="7.8" text-anchor="middle" font-weight="700" fill="#000" textLength="4.86" lengthAdjust="spacingAndGlyphs" stroke="#000" stroke-width="0.16">**</text>
<line x1="176.20" y1="228.75" x2="214.50" y2="228.75" stroke="#000" stroke-width="1.3"/>
<text x="194.50" y="229.90" font-size="7.8" text-anchor="middle" font-weight="700" fill="#000" textLength="4.86" lengthAdjust="spacingAndGlyphs" stroke="#000" stroke-width="0.16">**</text>
<text x="183.15" y="316.35" font-size="8.7" text-anchor="end" transform="rotate(-45 183.15 316.35)" textLength="13.08" lengthAdjust="spacingAndGlyphs" stroke="#111" stroke-width="0.16">Ctrl.</text>
<text x="195.53" y="316.35" font-size="8.7" text-anchor="end" transform="rotate(-45 195.53 316.35)" textLength="57.69" lengthAdjust="spacingAndGlyphs" stroke="#111" stroke-width="0.16">SAHA+GDC-0941</text>
<text x="207.53" y="316.35" font-size="8.7" text-anchor="end" transform="rotate(-45 207.53 316.35)" textLength="32.52" lengthAdjust="spacingAndGlyphs" stroke="#111" stroke-width="0.16">BEBT-908</text>
<text x="219.53" y="316.35" font-size="8.7" text-anchor="end" transform="rotate(-45 219.53 316.35)" textLength="22.20" lengthAdjust="spacingAndGlyphs" stroke="#111" stroke-width="0.16">Erastin</text>
<text x="241.30" y="211.10" font-size="12.8" font-weight="700" fill="#000" textLength="7.82" lengthAdjust="spacingAndGlyphs" stroke="#000" stroke-width="0.35">F</text>
<path d="M267.60 306.25V296.85H274.90V306.25" fill="none" stroke="#000" stroke-width="1.2"/>
<line x1="271.25" y1="295.65" x2="271.25" y2="296.85" stroke="#000" stroke-width="0.8"/>
<line x1="269.35" y1="295.65" x2="273.15" y2="295.65" stroke="#000" stroke-width="0.8"/>
<line x1="269.35" y1="296.85" x2="273.15" y2="296.85" stroke="#000" stroke-width="0.8"/>
<circle cx="268.60" cy="296.00" r="1.25" fill="none" stroke="#000" stroke-width="0.85"/>
<circle cx="271.20" cy="295.60" r="1.25" fill="none" stroke="#000" stroke-width="0.85"/>
<circle cx="273.80" cy="296.00" r="1.25" fill="none" stroke="#000" stroke-width="0.85"/>
<path d="M280.10 306.25V251.10H287.40V306.25" fill="none" stroke="#9fcf4a" stroke-width="1.2"/>
<line x1="283.75" y1="246.30" x2="283.75" y2="254.70" stroke="#9fcf4a" stroke-width="0.8"/>
<line x1="281.85" y1="246.30" x2="285.65" y2="246.30" stroke="#9fcf4a" stroke-width="0.8"/>
<line x1="281.85" y1="254.70" x2="285.65" y2="254.70" stroke="#9fcf4a" stroke-width="0.8"/>
<circle cx="280.60" cy="242.60" r="1.25" fill="none" stroke="#9fcf4a" stroke-width="0.85"/>
<circle cx="286.80" cy="240.60" r="1.25" fill="none" stroke="#9fcf4a" stroke-width="0.85"/>
<circle cx="281.00" cy="257.40" r="1.25" fill="none" stroke="#9fcf4a" stroke-width="0.85"/>
<circle cx="286.60" cy="257.00" r="1.25" fill="none" stroke="#9fcf4a" stroke-width="0.85"/>
<path d="M292.10 306.25V254.85H299.40V306.25" fill="none" stroke="#e83a2e" stroke-width="1.2"/>
<line x1="295.75" y1="249.85" x2="295.75" y2="258.65" stroke="#e83a2e" stroke-width="0.8"/>
<line x1="293.85" y1="249.85" x2="297.65" y2="249.85" stroke="#e83a2e" stroke-width="0.8"/>
<line x1="293.85" y1="258.65" x2="297.65" y2="258.65" stroke="#e83a2e" stroke-width="0.8"/>
<circle cx="295.80" cy="240.60" r="1.25" fill="none" stroke="#e83a2e" stroke-width="0.85"/>
<circle cx="292.60" cy="256.00" r="1.25" fill="none" stroke="#e83a2e" stroke-width="0.85"/>
<circle cx="298.00" cy="252.40" r="1.25" fill="none" stroke="#e83a2e" stroke-width="0.85"/>
<circle cx="298.40" cy="260.20" r="1.25" fill="none" stroke="#e83a2e" stroke-width="0.85"/>
<path d="M304.35 306.25V282.35H311.90V306.25" fill="none" stroke="#a653ad" stroke-width="1.2"/>
<line x1="308.12" y1="279.95" x2="308.12" y2="283.55" stroke="#a653ad" stroke-width="0.8"/>
<line x1="306.23" y1="279.95" x2="310.02" y2="279.95" stroke="#a653ad" stroke-width="0.8"/>
<line x1="306.23" y1="283.55" x2="310.02" y2="283.55" stroke="#a653ad" stroke-width="0.8"/>
<circle cx="305.20" cy="278.00" r="1.25" fill="none" stroke="#a653ad" stroke-width="0.85"/>
<circle cx="311.00" cy="277.60" r="1.25" fill="none" stroke="#a653ad" stroke-width="0.85"/>
<circle cx="306.40" cy="283.40" r="1.25" fill="none" stroke="#a653ad" stroke-width="0.85"/>
<circle cx="309.60" cy="283.60" r="1.25" fill="none" stroke="#a653ad" stroke-width="0.85"/>
<line x1="263.25" y1="226.50" x2="263.25" y2="306.75" stroke="#000" stroke-width="1.25"/>
<line x1="262.75" y1="306.25" x2="315.50" y2="306.25" stroke="#000" stroke-width="1.25"/>
<line x1="260.65" y1="306.25" x2="263.25" y2="306.25" stroke="#000" stroke-width="1.125"/>
<text x="259.65" y="309.31" font-size="8.5" text-anchor="end" fill="#000" textLength="3.88" lengthAdjust="spacingAndGlyphs" stroke="#000" stroke-width="0.16">0</text>
<line x1="260.65" y1="286.75" x2="263.25" y2="286.75" stroke="#000" stroke-width="1.125"/>
<text x="259.65" y="289.81" font-size="8.5" text-anchor="end" fill="#000" textLength="3.88" lengthAdjust="spacingAndGlyphs" stroke="#000" stroke-width="0.16">2</text>
<line x1="260.65" y1="266.75" x2="263.25" y2="266.75" stroke="#000" stroke-width="1.125"/>
<text x="259.65" y="269.81" font-size="8.5" text-anchor="end" fill="#000" textLength="3.88" lengthAdjust="spacingAndGlyphs" stroke="#000" stroke-width="0.16">4</text>
<line x1="260.65" y1="247.00" x2="263.25" y2="247.00" stroke="#000" stroke-width="1.125"/>
<text x="259.65" y="250.06" font-size="8.5" text-anchor="end" fill="#000" textLength="3.88" lengthAdjust="spacingAndGlyphs" stroke="#000" stroke-width="0.16">6</text>
<line x1="260.65" y1="227.00" x2="263.25" y2="227.00" stroke="#000" stroke-width="1.125"/>
<text x="259.65" y="230.06" font-size="8.5" text-anchor="end" fill="#000" textLength="3.88" lengthAdjust="spacingAndGlyphs" stroke="#000" stroke-width="0.16">8</text>
<text x="251.35" y="263.12" font-size="8.3" text-anchor="middle" transform="rotate(-90 251.35 263.12)" textLength="86.25" lengthAdjust="spacingAndGlyphs" stroke="#111" stroke-width="0.16">Relative KEAP1 expression</text>
<line x1="267.50" y1="219.25" x2="313.25" y2="219.25" stroke="#000" stroke-width="1.3"/>
<text x="287.50" y="219.20" font-size="7.8" text-anchor="middle" font-weight="700" fill="#000" textLength="7.29" lengthAdjust="spacingAndGlyphs" stroke="#000" stroke-width="0.16">***</text>
<line x1="267.50" y1="233.75" x2="302.00" y2="233.75" stroke="#000" stroke-width="1.3"/>
<text x="282.50" y="233.90" font-size="7.8" text-anchor="middle" font-weight="700" fill="#000" textLength="7.29" lengthAdjust="spacingAndGlyphs" stroke="#000" stroke-width="0.16">***</text>
<text x="273.15" y="313.85" font-size="8.7" text-anchor="end" transform="rotate(-45 273.15 313.85)" textLength="13.08" lengthAdjust="spacingAndGlyphs" stroke="#111" stroke-width="0.16">Ctrl.</text>
<text x="285.65" y="313.85" font-size="8.7" text-anchor="end" transform="rotate(-45 285.65 313.85)" textLength="57.69" lengthAdjust="spacingAndGlyphs" stroke="#111" stroke-width="0.16">SAHA+GDC-0941</text>
<text x="297.65" y="313.85" font-size="8.7" text-anchor="end" transform="rotate(-45 297.65 313.85)" textLength="32.52" lengthAdjust="spacingAndGlyphs" stroke="#111" stroke-width="0.16">BEBT-908</text>
<text x="310.02" y="313.85" font-size="8.7" text-anchor="end" transform="rotate(-45 310.02 313.85)" textLength="22.20" lengthAdjust="spacingAndGlyphs" stroke="#111" stroke-width="0.16">Erastin</text>
<text x="325.00" y="211.10" font-size="12.8" font-weight="700" fill="#000" textLength="9.96" lengthAdjust="spacingAndGlyphs" stroke="#000" stroke-width="0.35">G</text>
<path d="M352.35 306.40V296.85H359.40V306.40" fill="none" stroke="#000" stroke-width="1.2"/>
<line x1="355.88" y1="295.65" x2="355.88" y2="296.85" stroke="#000" stroke-width="0.8"/>
<line x1="353.98" y1="295.65" x2="357.77" y2="295.65" stroke="#000" stroke-width="0.8"/>
<line x1="353.98" y1="296.85" x2="357.77" y2="296.85" stroke="#000" stroke-width="0.8"/>
<circle cx="353.20" cy="296.00" r="1.25" fill="none" stroke="#000" stroke-width="0.85"/>
<circle cx="355.80" cy="295.40" r="1.25" fill="none" stroke="#000" stroke-width="0.85"/>
<circle cx="358.40" cy="296.00" r="1.25" fill="none" stroke="#000" stroke-width="0.85"/>
<path d="M364.35 306.40V263.60H371.40V306.40" fill="none" stroke="#9fcf4a" stroke-width="1.2"/>
<line x1="367.88" y1="255.00" x2="367.88" y2="271.00" stroke="#9fcf4a" stroke-width="0.8"/>
<line x1="365.98" y1="255.00" x2="369.77" y2="255.00" stroke="#9fcf4a" stroke-width="0.8"/>
<line x1="365.98" y1="271.00" x2="369.77" y2="271.00" stroke="#9fcf4a" stroke-width="0.8"/>
<circle cx="368.00" cy="248.60" r="1.25" fill="none" stroke="#9fcf4a" stroke-width="0.85"/>
<circle cx="368.00" cy="252.20" r="1.25" fill="none" stroke="#9fcf4a" stroke-width="0.85"/>
<circle cx="365.00" cy="276.00" r="1.25" fill="none" stroke="#9fcf4a" stroke-width="0.85"/>
<circle cx="370.60" cy="275.00" r="1.25" fill="none" stroke="#9fcf4a" stroke-width="0.85"/>
<path d="M376.35 306.40V261.10H383.90V306.40" fill="none" stroke="#e83a2e" stroke-width="1.2"/>
<line x1="380.12" y1="258.70" x2="380.12" y2="262.30" stroke="#e83a2e" stroke-width="0.8"/>
<line x1="378.23" y1="258.70" x2="382.02" y2="258.70" stroke="#e83a2e" stroke-width="0.8"/>
<line x1="378.23" y1="262.30" x2="382.02" y2="262.30" stroke="#e83a2e" stroke-width="0.8"/>
<circle cx="377.60" cy="257.00" r="1.25" fill="none" stroke="#e83a2e" stroke-width="0.85"/>
<circle cx="382.60" cy="255.80" r="1.25" fill="none" stroke="#e83a2e" stroke-width="0.85"/>
<circle cx="379.60" cy="259.60" r="1.25" fill="none" stroke="#e83a2e" stroke-width="0.85"/>
<circle cx="380.00" cy="264.20" r="1.25" fill="none" stroke="#e83a2e" stroke-width="0.85"/>
<path d="M388.60 306.40V288.85H395.65V306.40" fill="none" stroke="#a653ad" stroke-width="1.2"/>
<line x1="392.12" y1="287.05" x2="392.12" y2="289.45" stroke="#a653ad" stroke-width="0.8"/>
<line x1="390.23" y1="287.05" x2="394.02" y2="287.05" stroke="#a653ad" stroke-width="0.8"/>
<line x1="390.23" y1="289.45" x2="394.02" y2="289.45" stroke="#a653ad" stroke-width="0.8"/>
<circle cx="392.40" cy="284.40" r="1.25" fill="none" stroke="#a653ad" stroke-width="0.85"/>
<circle cx="390.00" cy="288.00" r="1.25" fill="none" stroke="#a653ad" stroke-width="0.85"/>
<circle cx="394.60" cy="288.60" r="1.25" fill="none" stroke="#a653ad" stroke-width="0.85"/>
<line x1="347.40" y1="226.50" x2="347.40" y2="306.90" stroke="#000" stroke-width="1.25"/>
<line x1="346.90" y1="306.40" x2="402.00" y2="306.40" stroke="#000" stroke-width="1.25"/>
<line x1="344.80" y1="306.40" x2="347.40" y2="306.40" stroke="#000" stroke-width="1.125"/>
<text x="343.80" y="309.46" font-size="8.5" text-anchor="end" fill="#000" textLength="3.88" lengthAdjust="spacingAndGlyphs" stroke="#000" stroke-width="0.16">0</text>
<line x1="344.80" y1="287.00" x2="347.40" y2="287.00" stroke="#000" stroke-width="1.125"/>
<text x="343.80" y="290.06" font-size="8.5" text-anchor="end" fill="#000" textLength="3.88" lengthAdjust="spacingAndGlyphs" stroke="#000" stroke-width="0.16">2</text>
<line x1="344.80" y1="267.00" x2="347.40" y2="267.00" stroke="#000" stroke-width="1.125"/>
<text x="343.80" y="270.06" font-size="8.5" text-anchor="end" fill="#000" textLength="3.88" lengthAdjust="spacingAndGlyphs" stroke="#000" stroke-width="0.16">4</text>
<line x1="344.80" y1="247.00" x2="347.40" y2="247.00" stroke="#000" stroke-width="1.125"/>
<text x="343.80" y="250.06" font-size="8.5" text-anchor="end" fill="#000" textLength="3.88" lengthAdjust="spacingAndGlyphs" stroke="#000" stroke-width="0.16">6</text>
<line x1="344.80" y1="227.00" x2="347.40" y2="227.00" stroke="#000" stroke-width="1.125"/>
<text x="343.80" y="230.06" font-size="8.5" text-anchor="end" fill="#000" textLength="3.88" lengthAdjust="spacingAndGlyphs" stroke="#000" stroke-width="0.16">8</text>
<text x="335.10" y="263.75" font-size="8.3" text-anchor="middle" transform="rotate(-90 335.10 263.75)" textLength="87.50" lengthAdjust="spacingAndGlyphs" stroke="#111" stroke-width="0.16">Relative NOXO1 expression</text>
<line x1="351.25" y1="219.50" x2="402.00" y2="219.50" stroke="#000" stroke-width="1.3"/>
<text x="375.50" y="219.60" font-size="7.8" text-anchor="middle" font-weight="700" fill="#000" textLength="4.86" lengthAdjust="spacingAndGlyphs" stroke="#000" stroke-width="0.16">**</text>
<line x1="351.25" y1="230.75" x2="388.75" y2="230.75" stroke="#000" stroke-width="1.3"/>
<text x="370.75" y="231.50" font-size="7.8" text-anchor="middle" font-weight="700" fill="#000" textLength="9.71" lengthAdjust="spacingAndGlyphs" stroke="#000" stroke-width="0.16">****</text>
<text x="357.77" y="314.00" font-size="8.7" text-anchor="end" transform="rotate(-45 357.77 314.00)" textLength="13.08" lengthAdjust="spacingAndGlyphs" stroke="#111" stroke-width="0.16">Ctrl.</text>
<text x="369.77" y="314.00" font-size="8.7" text-anchor="end" transform="rotate(-45 369.77 314.00)" textLength="57.69" lengthAdjust="spacingAndGlyphs" stroke="#111" stroke-width="0.16">SAHA+GDC-0941</text>
<text x="382.02" y="314.00" font-size="8.7" text-anchor="end" transform="rotate(-45 382.02 314.00)" textLength="32.52" lengthAdjust="spacingAndGlyphs" stroke="#111" stroke-width="0.16">BEBT-908</text>
<text x="394.02" y="314.00" font-size="8.7" text-anchor="end" transform="rotate(-45 394.02 314.00)" textLength="22.20" lengthAdjust="spacingAndGlyphs" stroke="#111" stroke-width="0.16">Erastin</text>
<text x="399.30" y="211.10" font-size="12.8" font-weight="700" fill="#000" textLength="9.24" lengthAdjust="spacingAndGlyphs" stroke="#000" stroke-width="0.35">H</text>
<path d="M437.35 303.40V251.35H444.40V303.40" fill="none" stroke="#000" stroke-width="1.2"/>
<line x1="440.88" y1="247.95" x2="440.88" y2="253.55" stroke="#000" stroke-width="0.8"/>
<line x1="438.98" y1="247.95" x2="442.77" y2="247.95" stroke="#000" stroke-width="0.8"/>
<line x1="438.98" y1="253.55" x2="442.77" y2="253.55" stroke="#000" stroke-width="0.8"/>
<circle cx="438.00" cy="246.40" r="1.25" fill="none" stroke="#000" stroke-width="0.85"/>
<circle cx="443.00" cy="244.60" r="1.25" fill="none" stroke="#000" stroke-width="0.85"/>
<circle cx="438.60" cy="254.40" r="1.25" fill="none" stroke="#000" stroke-width="0.85"/>
<circle cx="443.40" cy="253.60" r="1.25" fill="none" stroke="#000" stroke-width="0.85"/>
<path d="M449.35 303.40V289.35H456.40V303.40" fill="none" stroke="#9fcf4a" stroke-width="1.2"/>
<line x1="452.88" y1="287.95" x2="452.88" y2="289.55" stroke="#9fcf4a" stroke-width="0.8"/>
<line x1="450.98" y1="287.95" x2="454.77" y2="287.95" stroke="#9fcf4a" stroke-width="0.8"/>
<line x1="450.98" y1="289.55" x2="454.77" y2="289.55" stroke="#9fcf4a" stroke-width="0.8"/>
<circle cx="450.40" cy="288.60" r="1.25" fill="none" stroke="#9fcf4a" stroke-width="0.85"/>
<circle cx="453.00" cy="289.40" r="1.25" fill="none" stroke="#9fcf4a" stroke-width="0.85"/>
<circle cx="455.40" cy="288.40" r="1.25" fill="none" stroke="#9fcf4a" stroke-width="0.85"/>
<path d="M461.35 303.40V288.10H468.40V303.40" fill="none" stroke="#e83a2e" stroke-width="1.2"/>
<line x1="464.88" y1="286.60" x2="464.88" y2="288.40" stroke="#e83a2e" stroke-width="0.8"/>
<line x1="462.98" y1="286.60" x2="466.77" y2="286.60" stroke="#e83a2e" stroke-width="0.8"/>
<line x1="462.98" y1="288.40" x2="466.77" y2="288.40" stroke="#e83a2e" stroke-width="0.8"/>
<circle cx="462.40" cy="287.40" r="1.25" fill="none" stroke="#e83a2e" stroke-width="0.85"/>
<circle cx="465.00" cy="288.40" r="1.25" fill="none" stroke="#e83a2e" stroke-width="0.85"/>
<circle cx="467.60" cy="285.20" r="1.25" fill="none" stroke="#e83a2e" stroke-width="0.85"/>
<path d="M473.60 303.40V292.60H480.65V303.40" fill="none" stroke="#a653ad" stroke-width="1.2"/>
<line x1="477.12" y1="291.10" x2="477.12" y2="292.90" stroke="#a653ad" stroke-width="0.8"/>
<line x1="475.23" y1="291.10" x2="479.02" y2="291.10" stroke="#a653ad" stroke-width="0.8"/>
<line x1="475.23" y1="292.90" x2="479.02" y2="292.90" stroke="#a653ad" stroke-width="0.8"/>
<circle cx="474.60" cy="293.00" r="1.25" fill="none" stroke="#a653ad" stroke-width="0.85"/>
<circle cx="477.20" cy="291.00" r="1.25" fill="none" stroke="#a653ad" stroke-width="0.85"/>
<circle cx="479.60" cy="289.80" r="1.25" fill="none" stroke="#a653ad" stroke-width="0.85"/>
<line x1="432.50" y1="224.00" x2="432.50" y2="303.90" stroke="#000" stroke-width="1.25"/>
<line x1="432.00" y1="303.40" x2="486.50" y2="303.40" stroke="#000" stroke-width="1.25"/>
<line x1="429.90" y1="303.40" x2="432.50" y2="303.40" stroke="#000" stroke-width="1.125"/>
<text x="428.90" y="306.46" font-size="8.5" text-anchor="end" fill="#000" textLength="9.69" lengthAdjust="spacingAndGlyphs" stroke="#000" stroke-width="0.16">0.0</text>
<line x1="429.90" y1="277.00" x2="432.50" y2="277.00" stroke="#000" stroke-width="1.125"/>
<text x="428.90" y="280.06" font-size="8.5" text-anchor="end" fill="#000" textLength="9.69" lengthAdjust="spacingAndGlyphs" stroke="#000" stroke-width="0.16">0.5</text>
<line x1="429.90" y1="250.75" x2="432.50" y2="250.75" stroke="#000" stroke-width="1.125"/>
<text x="428.90" y="253.81" font-size="8.5" text-anchor="end" fill="#000" textLength="9.69" lengthAdjust="spacingAndGlyphs" stroke="#000" stroke-width="0.16">1.0</text>
<line x1="429.90" y1="224.50" x2="432.50" y2="224.50" stroke="#000" stroke-width="1.125"/>
<text x="428.90" y="227.56" font-size="8.5" text-anchor="end" fill="#000" textLength="9.69" lengthAdjust="spacingAndGlyphs" stroke="#000" stroke-width="0.16">1.5</text>
<text x="414.60" y="262.75" font-size="8.3" text-anchor="middle" transform="rotate(-90 414.60 262.75)" textLength="83.50" lengthAdjust="spacingAndGlyphs" stroke="#111" stroke-width="0.16">Relative GCLM expression</text>
<line x1="436.25" y1="219.50" x2="486.75" y2="219.50" stroke="#000" stroke-width="1.3"/>
<text x="462.50" y="219.60" font-size="7.8" text-anchor="middle" font-weight="700" fill="#000" textLength="9.71" lengthAdjust="spacingAndGlyphs" stroke="#000" stroke-width="0.16">****</text>
<line x1="436.25" y1="230.75" x2="475.00" y2="230.75" stroke="#000" stroke-width="1.3"/>
<text x="455.50" y="231.50" font-size="7.8" text-anchor="middle" font-weight="700" fill="#000" textLength="9.71" lengthAdjust="spacingAndGlyphs" stroke="#000" stroke-width="0.16">****</text>
<text x="442.77" y="311.00" font-size="8.7" text-anchor="end" transform="rotate(-45 442.77 311.00)" textLength="13.08" lengthAdjust="spacingAndGlyphs" stroke="#111" stroke-width="0.16">Ctrl.</text>
<text x="454.77" y="311.00" font-size="8.7" text-anchor="end" transform="rotate(-45 454.77 311.00)" textLength="57.69" lengthAdjust="spacingAndGlyphs" stroke="#111" stroke-width="0.16">SAHA+GDC-0941</text>
<text x="466.77" y="311.00" font-size="8.7" text-anchor="end" transform="rotate(-45 466.77 311.00)" textLength="32.52" lengthAdjust="spacingAndGlyphs" stroke="#111" stroke-width="0.16">BEBT-908</text>
<text x="479.02" y="311.00" font-size="8.7" text-anchor="end" transform="rotate(-45 479.02 311.00)" textLength="22.20" lengthAdjust="spacingAndGlyphs" stroke="#111" stroke-width="0.16">Erastin</text>
<text x="0.80" y="371.30" font-size="12.8" font-weight="700" fill="#000" textLength="3.56" lengthAdjust="spacingAndGlyphs" stroke="#000" stroke-width="0.35">I</text>
<path d="M33.10 459.25V445.60H40.65V459.25" fill="none" stroke="#000" stroke-width="1.2"/>
<line x1="36.88" y1="444.50" x2="36.88" y2="445.50" stroke="#000" stroke-width="0.8"/>
<line x1="34.98" y1="444.50" x2="38.77" y2="444.50" stroke="#000" stroke-width="0.8"/>
<line x1="34.98" y1="445.50" x2="38.77" y2="445.50" stroke="#000" stroke-width="0.8"/>
<circle cx="33.80" cy="445.00" r="1.25" fill="none" stroke="#000" stroke-width="0.85"/>
<circle cx="37.00" cy="445.20" r="1.25" fill="none" stroke="#000" stroke-width="0.85"/>
<circle cx="40.00" cy="444.80" r="1.25" fill="none" stroke="#000" stroke-width="0.85"/>
<path d="M47.35 459.25V428.10H54.90V459.25" fill="none" stroke="#9fcf4a" stroke-width="1.2"/>
<line x1="51.12" y1="426.60" x2="51.12" y2="428.40" stroke="#9fcf4a" stroke-width="0.8"/>
<line x1="49.23" y1="426.60" x2="53.02" y2="426.60" stroke="#9fcf4a" stroke-width="0.8"/>
<line x1="49.23" y1="428.40" x2="53.02" y2="428.40" stroke="#9fcf4a" stroke-width="0.8"/>
<circle cx="49.00" cy="428.00" r="1.25" fill="none" stroke="#9fcf4a" stroke-width="0.85"/>
<circle cx="51.20" cy="425.80" r="1.25" fill="none" stroke="#9fcf4a" stroke-width="0.85"/>
<circle cx="53.60" cy="428.00" r="1.25" fill="none" stroke="#9fcf4a" stroke-width="0.85"/>
<path d="M61.35 459.25V419.35H68.90V459.25" fill="none" stroke="#e83a2e" stroke-width="1.2"/>
<line x1="65.12" y1="417.15" x2="65.12" y2="420.35" stroke="#e83a2e" stroke-width="0.8"/>
<line x1="63.23" y1="417.15" x2="67.03" y2="417.15" stroke="#e83a2e" stroke-width="0.8"/>
<line x1="63.23" y1="420.35" x2="67.03" y2="420.35" stroke="#e83a2e" stroke-width="0.8"/>
<circle cx="62.20" cy="417.40" r="1.25" fill="none" stroke="#e83a2e" stroke-width="0.85"/>
<circle cx="68.40" cy="417.00" r="1.25" fill="none" stroke="#e83a2e" stroke-width="0.85"/>
<circle cx="64.60" cy="419.80" r="1.25" fill="none" stroke="#e83a2e" stroke-width="0.85"/>
<circle cx="65.40" cy="422.60" r="1.25" fill="none" stroke="#e83a2e" stroke-width="0.85"/>
<path d="M75.60 459.25V399.85H83.15V459.25" fill="none" stroke="#a653ad" stroke-width="1.2"/>
<line x1="79.38" y1="392.65" x2="79.38" y2="405.85" stroke="#a653ad" stroke-width="0.8"/>
<line x1="77.47" y1="392.65" x2="81.28" y2="392.65" stroke="#a653ad" stroke-width="0.8"/>
<line x1="77.47" y1="405.85" x2="81.28" y2="405.85" stroke="#a653ad" stroke-width="0.8"/>
<circle cx="79.40" cy="389.00" r="1.25" fill="none" stroke="#a653ad" stroke-width="0.85"/>
<circle cx="79.40" cy="397.90" r="1.25" fill="none" stroke="#a653ad" stroke-width="0.85"/>
<circle cx="79.40" cy="411.20" r="1.25" fill="none" stroke="#a653ad" stroke-width="0.85"/>
<line x1="28.75" y1="375.00" x2="28.75" y2="459.75" stroke="#000" stroke-width="1.25"/>
<line x1="28.25" y1="459.25" x2="87.50" y2="459.25" stroke="#000" stroke-width="1.25"/>
<line x1="26.15" y1="459.25" x2="28.75" y2="459.25" stroke="#000" stroke-width="1.125"/>
<text x="25.15" y="462.56" font-size="9.2" text-anchor="end" fill="#000" textLength="4.20" lengthAdjust="spacingAndGlyphs" stroke="#000" stroke-width="0.16">0</text>
<line x1="26.15" y1="431.25" x2="28.75" y2="431.25" stroke="#000" stroke-width="1.125"/>
<text x="25.15" y="434.56" font-size="9.2" text-anchor="end" fill="#000" textLength="4.20" lengthAdjust="spacingAndGlyphs" stroke="#000" stroke-width="0.16">2</text>
<line x1="26.15" y1="403.25" x2="28.75" y2="403.25" stroke="#000" stroke-width="1.125"/>
<text x="25.15" y="406.56" font-size="9.2" text-anchor="end" fill="#000" textLength="4.20" lengthAdjust="spacingAndGlyphs" stroke="#000" stroke-width="0.16">4</text>
<line x1="26.15" y1="375.50" x2="28.75" y2="375.50" stroke="#000" stroke-width="1.125"/>
<text x="25.15" y="378.81" font-size="9.2" text-anchor="end" fill="#000" textLength="4.20" lengthAdjust="spacingAndGlyphs" stroke="#000" stroke-width="0.16">6</text>
<text x="11.35" y="416.25" font-size="9.6" text-anchor="middle" transform="rotate(-90 11.35 416.25)" textLength="60.00" lengthAdjust="spacingAndGlyphs" stroke="#111" stroke-width="0.16">Relative lipid ROS</text>
<line x1="32.50" y1="381.50" x2="83.00" y2="381.50" stroke="#000" stroke-width="1.3"/>
<text x="52.50" y="382.50" font-size="7.8" text-anchor="middle" font-weight="700" fill="#000" textLength="4.86" lengthAdjust="spacingAndGlyphs" stroke="#000" stroke-width="0.16">**</text>
<line x1="32.50" y1="397.50" x2="69.50" y2="397.50" stroke="#000" stroke-width="1.3"/>
<text x="52.50" y="397.90" font-size="7.8" text-anchor="middle" font-weight="700" fill="#000" textLength="7.29" lengthAdjust="spacingAndGlyphs" stroke="#000" stroke-width="0.16">***</text>
<text x="39.27" y="467.45" font-size="8.7" text-anchor="end" transform="rotate(-45 39.27 467.45)" textLength="13.08" lengthAdjust="spacingAndGlyphs" stroke="#111" stroke-width="0.16">Ctrl.</text>
<text x="53.52" y="467.45" font-size="8.7" text-anchor="end" transform="rotate(-45 53.52 467.45)" textLength="57.69" lengthAdjust="spacingAndGlyphs" stroke="#111" stroke-width="0.16">SAHA+GDC-0941</text>
<text x="67.53" y="467.45" font-size="8.7" text-anchor="end" transform="rotate(-45 67.53 467.45)" textLength="32.52" lengthAdjust="spacingAndGlyphs" stroke="#111" stroke-width="0.16">BEBT-908</text>
<text x="81.78" y="467.45" font-size="8.7" text-anchor="end" transform="rotate(-45 81.78 467.45)" textLength="22.20" lengthAdjust="spacingAndGlyphs" stroke="#111" stroke-width="0.16">Erastin</text>
<text x="94.30" y="371.30" font-size="12.8" font-weight="700" fill="#000" textLength="7.12" lengthAdjust="spacingAndGlyphs" stroke="#000" stroke-width="0.35">J</text>
<path d="M133.60 459.25V422.60H141.15V459.25" fill="none" stroke="#000" stroke-width="1.2"/>
<line x1="137.38" y1="421.60" x2="137.38" y2="422.40" stroke="#000" stroke-width="0.8"/>
<line x1="135.47" y1="421.60" x2="139.28" y2="421.60" stroke="#000" stroke-width="0.8"/>
<line x1="135.47" y1="422.40" x2="139.28" y2="422.40" stroke="#000" stroke-width="0.8"/>
<circle cx="135.00" cy="422.00" r="1.25" fill="none" stroke="#000" stroke-width="0.85"/>
<circle cx="137.40" cy="421.80" r="1.25" fill="none" stroke="#000" stroke-width="0.85"/>
<circle cx="139.80" cy="422.00" r="1.25" fill="none" stroke="#000" stroke-width="0.85"/>
<path d="M146.85 459.25V419.35H154.40V459.25" fill="none" stroke="#9fcf4a" stroke-width="1.2"/>
<line x1="150.62" y1="417.95" x2="150.62" y2="419.55" stroke="#9fcf4a" stroke-width="0.8"/>
<line x1="148.72" y1="417.95" x2="152.53" y2="417.95" stroke="#9fcf4a" stroke-width="0.8"/>
<line x1="148.72" y1="419.55" x2="152.53" y2="419.55" stroke="#9fcf4a" stroke-width="0.8"/>
<circle cx="148.60" cy="418.60" r="1.25" fill="none" stroke="#9fcf4a" stroke-width="0.85"/>
<circle cx="150.80" cy="417.60" r="1.25" fill="none" stroke="#9fcf4a" stroke-width="0.85"/>
<circle cx="153.00" cy="418.80" r="1.25" fill="none" stroke="#9fcf4a" stroke-width="0.85"/>
<path d="M160.60 459.25V395.10H168.15V459.25" fill="none" stroke="#e83a2e" stroke-width="1.2"/>
<line x1="164.38" y1="394.00" x2="164.38" y2="395.00" stroke="#e83a2e" stroke-width="0.8"/>
<line x1="162.47" y1="394.00" x2="166.28" y2="394.00" stroke="#e83a2e" stroke-width="0.8"/>
<line x1="162.47" y1="395.00" x2="166.28" y2="395.00" stroke="#e83a2e" stroke-width="0.8"/>
<circle cx="161.50" cy="393.60" r="1.25" fill="none" stroke="#e83a2e" stroke-width="0.85"/>
<circle cx="167.30" cy="393.60" r="1.25" fill="none" stroke="#e83a2e" stroke-width="0.85"/>
<path d="M173.85 459.25V398.60H181.40V459.25" fill="none" stroke="#a653ad" stroke-width="1.2"/>
<line x1="177.62" y1="397.50" x2="177.62" y2="398.50" stroke="#a653ad" stroke-width="0.8"/>
<line x1="175.72" y1="397.50" x2="179.53" y2="397.50" stroke="#a653ad" stroke-width="0.8"/>
<line x1="175.72" y1="398.50" x2="179.53" y2="398.50" stroke="#a653ad" stroke-width="0.8"/>
<circle cx="174.80" cy="397.80" r="1.25" fill="none" stroke="#a653ad" stroke-width="0.85"/>
<circle cx="177.60" cy="397.00" r="1.25" fill="none" stroke="#a653ad" stroke-width="0.85"/>
<circle cx="180.40" cy="397.80" r="1.25" fill="none" stroke="#a653ad" stroke-width="0.85"/>
<line x1="128.75" y1="377.50" x2="128.75" y2="459.75" stroke="#000" stroke-width="1.25"/>
<line x1="128.25" y1="459.25" x2="186.25" y2="459.25" stroke="#000" stroke-width="1.25"/>
<line x1="126.15" y1="459.25" x2="128.75" y2="459.25" stroke="#000" stroke-width="1.125"/>
<text x="125.15" y="462.56" font-size="9.2" text-anchor="end" fill="#000" textLength="4.20" lengthAdjust="spacingAndGlyphs" stroke="#000" stroke-width="0.16">0</text>
<line x1="126.15" y1="439.00" x2="128.75" y2="439.00" stroke="#000" stroke-width="1.125"/>
<text x="125.15" y="442.31" font-size="9.2" text-anchor="end" fill="#000" textLength="4.20" lengthAdjust="spacingAndGlyphs" stroke="#000" stroke-width="0.16">2</text>
<line x1="126.15" y1="418.75" x2="128.75" y2="418.75" stroke="#000" stroke-width="1.125"/>
<text x="125.15" y="422.06" font-size="9.2" text-anchor="end" fill="#000" textLength="4.20" lengthAdjust="spacingAndGlyphs" stroke="#000" stroke-width="0.16">4</text>
<line x1="126.15" y1="398.25" x2="128.75" y2="398.25" stroke="#000" stroke-width="1.125"/>
<text x="125.15" y="401.56" font-size="9.2" text-anchor="end" fill="#000" textLength="4.20" lengthAdjust="spacingAndGlyphs" stroke="#000" stroke-width="0.16">6</text>
<line x1="126.15" y1="378.00" x2="128.75" y2="378.00" stroke="#000" stroke-width="1.125"/>
<text x="125.15" y="381.31" font-size="9.2" text-anchor="end" fill="#000" textLength="4.20" lengthAdjust="spacingAndGlyphs" stroke="#000" stroke-width="0.16">8</text>
<text x="115.60" y="416.25" font-size="8.8" text-anchor="middle" transform="rotate(-90 115.60 416.25)" textLength="92.50" lengthAdjust="spacingAndGlyphs" stroke="#111" stroke-width="0.16">MDA Content (μmol/L/g protein)</text>
<line x1="133.00" y1="377.50" x2="179.50" y2="377.50" stroke="#000" stroke-width="1.3"/>
<text x="156.75" y="376.50" font-size="7.8" text-anchor="middle" font-weight="700" fill="#000" textLength="9.71" lengthAdjust="spacingAndGlyphs" stroke="#000" stroke-width="0.16">****</text>
<line x1="133.00" y1="387.00" x2="168.25" y2="387.00" stroke="#000" stroke-width="1.3"/>
<text x="147.50" y="386.70" font-size="7.8" text-anchor="middle" font-weight="700" fill="#000" textLength="9.71" lengthAdjust="spacingAndGlyphs" stroke="#000" stroke-width="0.16">****</text>
<text x="139.78" y="467.45" font-size="8.7" text-anchor="end" transform="rotate(-45 139.78 467.45)" textLength="13.08" lengthAdjust="spacingAndGlyphs" stroke="#111" stroke-width="0.16">Ctrl.</text>
<text x="153.03" y="467.45" font-size="8.7" text-anchor="end" transform="rotate(-45 153.03 467.45)" textLength="57.69" lengthAdjust="spacingAndGlyphs" stroke="#111" stroke-width="0.16">SAHA+GDC-0941</text>
<text x="166.78" y="467.45" font-size="8.7" text-anchor="end" transform="rotate(-45 166.78 467.45)" textLength="32.52" lengthAdjust="spacingAndGlyphs" stroke="#111" stroke-width="0.16">BEBT-908</text>
<text x="180.03" y="467.45" font-size="8.7" text-anchor="end" transform="rotate(-45 180.03 467.45)" textLength="22.20" lengthAdjust="spacingAndGlyphs" stroke="#111" stroke-width="0.16">Erastin</text>
<text x="198.80" y="371.30" font-size="12.8" font-weight="700" fill="#000" textLength="9.24" lengthAdjust="spacingAndGlyphs" stroke="#000" stroke-width="0.35">K</text>
<defs><clipPath id="k1"><rect x="210" y="415" width="40" height="20.5"/></clipPath><clipPath id="k2"><rect x="210" y="438.3" width="40" height="19.2"/></clipPath></defs>
<rect x="210.00" y="415.00" width="40.00" height="20.50" fill="#aeaeae"/>
<g clip-path="url(#k1)">
<ellipse cx="220.5" cy="426.0" rx="9.0" ry="4.2" fill="#2a2a2a" opacity="0.6" filter="url(#b2)"/>
<ellipse cx="239.5" cy="426.5" rx="7.5" ry="3.8" fill="#333" opacity="0.3" filter="url(#b2)"/>
<rect x="210.00" y="415.00" width="40.00" height="2.50" fill="#888" opacity="0.5" filter="url(#b1)"/>
</g>
<rect x="210.00" y="415.00" width="40.00" height="20.50" fill="none" stroke="#1c1c1c" stroke-width="1.1"/>
<rect x="210.00" y="438.30" width="40.00" height="19.20" fill="#dcdcdc"/>
<g clip-path="url(#k2)">
<path d="M208 445.6 Q220 444.6 229.5 446.6 Q236 444.8 252 445.4 V453.4 Q238 454.6 230 452.6 Q222 454.6 208 453.6Z" fill="#060606" filter="url(#b1)"/>
<rect x="210.00" y="455.80" width="40.00" height="2.00" fill="#777" opacity="0.5" filter="url(#b1)"/>
</g>
<rect x="210.00" y="438.30" width="40.00" height="19.20" fill="none" stroke="#1c1c1c" stroke-width="1.1"/>
<text x="253.80" y="429.20" font-size="8" textLength="17.50" lengthAdjust="spacingAndGlyphs" stroke="#111" stroke-width="0.16">GPX4</text>
<text x="253.80" y="452.40" font-size="8" textLength="20.54" lengthAdjust="spacingAndGlyphs" stroke="#111" stroke-width="0.16">β-Actin</text>
<text x="220.00" y="405.80" font-size="8" transform="rotate(-45 220.00 405.80)" textLength="12.02" lengthAdjust="spacingAndGlyphs" stroke="#111" stroke-width="0.16">Ctrl.</text>
<text x="240.50" y="408.50" font-size="7.8" transform="rotate(-45 240.50 408.50)" textLength="27.73" lengthAdjust="spacingAndGlyphs" stroke="#111" stroke-width="0.16">GPX4 KD</text>
<text x="280.00" y="371.30" font-size="12.8" font-weight="700" fill="#000" textLength="7.82" lengthAdjust="spacingAndGlyphs" stroke="#000" stroke-width="0.35">L</text>
<path d="M320.60 457.00V416.10H331.15V457.00" fill="none" stroke="#000" stroke-width="1.2"/>
<line x1="325.90" y1="409.30" x2="325.90" y2="421.70" stroke="#000" stroke-width="0.8"/>
<line x1="322.70" y1="409.30" x2="329.10" y2="409.30" stroke="#000" stroke-width="0.8"/>
<line x1="322.70" y1="421.70" x2="329.10" y2="421.70" stroke="#000" stroke-width="0.8"/>
<circle cx="325.75" cy="402.50" r="1.50" fill="#000"/>
<circle cx="328.25" cy="420.50" r="1.50" fill="#000"/>
<circle cx="323.75" cy="422.50" r="1.50" fill="#000"/>
<path d="M338.60 457.00V430.10H349.40V457.00" fill="none" stroke="#e83a2e" stroke-width="1.2"/>
<line x1="344.00" y1="425.30" x2="344.00" y2="433.70" stroke="#e83a2e" stroke-width="0.8"/>
<line x1="340.80" y1="425.30" x2="347.20" y2="425.30" stroke="#e83a2e" stroke-width="0.8"/>
<line x1="340.80" y1="433.70" x2="347.20" y2="433.70" stroke="#e83a2e" stroke-width="0.8"/>
<circle cx="344.25" cy="420.50" r="1.40" fill="none" stroke="#e83a2e" stroke-width="0.85"/>
<circle cx="342.00" cy="433.00" r="1.40" fill="none" stroke="#e83a2e" stroke-width="0.85"/>
<circle cx="346.40" cy="433.00" r="1.40" fill="none" stroke="#e83a2e" stroke-width="0.85"/>
<line x1="313.75" y1="380.75" x2="313.75" y2="457.60" stroke="#000" stroke-width="1.25"/>
<line x1="313.15" y1="457.00" x2="355.00" y2="457.00" stroke="#000" stroke-width="1.25"/>
<line x1="311.35" y1="457.00" x2="313.75" y2="457.00" stroke="#000" stroke-width="1.1"/>
<text x="310.15" y="460.02" font-size="8.4" text-anchor="end" fill="#000" textLength="3.83" lengthAdjust="spacingAndGlyphs" stroke="#000" stroke-width="0.16">0</text>
<line x1="311.35" y1="438.25" x2="313.75" y2="438.25" stroke="#000" stroke-width="1.1"/>
<text x="310.15" y="441.27" font-size="8.4" text-anchor="end" fill="#000" textLength="7.66" lengthAdjust="spacingAndGlyphs" stroke="#000" stroke-width="0.16">20</text>
<line x1="311.35" y1="419.25" x2="313.75" y2="419.25" stroke="#000" stroke-width="1.1"/>
<text x="310.15" y="422.27" font-size="8.4" text-anchor="end" fill="#000" textLength="7.66" lengthAdjust="spacingAndGlyphs" stroke="#000" stroke-width="0.16">40</text>
<line x1="311.35" y1="400.50" x2="313.75" y2="400.50" stroke="#000" stroke-width="1.1"/>
<text x="310.15" y="403.52" font-size="8.4" text-anchor="end" fill="#000" textLength="7.66" lengthAdjust="spacingAndGlyphs" stroke="#000" stroke-width="0.16">60</text>
<line x1="311.35" y1="381.25" x2="313.75" y2="381.25" stroke="#000" stroke-width="1.1"/>
<text x="310.15" y="384.27" font-size="8.4" text-anchor="end" fill="#000" textLength="7.66" lengthAdjust="spacingAndGlyphs" stroke="#000" stroke-width="0.16">80</text>
<text x="297.50" y="416.88" font-size="7.4" text-anchor="middle" transform="rotate(-90 297.50 416.88)" textLength="76.25" lengthAdjust="spacingAndGlyphs" stroke="#111" stroke-width="0.16">Relative cell viability (%)</text>
<line x1="328.80" y1="388.50" x2="341.40" y2="388.50" stroke="#000" stroke-width="0.6"/>
<text x="335.00" y="385.60" font-size="7.8" text-anchor="middle" font-weight="700" fill="#000" textLength="2.43" lengthAdjust="spacingAndGlyphs" stroke="#000" stroke-width="0.16">*</text>
<text x="328.20" y="465.00" font-size="7.8" text-anchor="end" transform="rotate(-45 328.20 465.00)" textLength="11.72" lengthAdjust="spacingAndGlyphs" stroke="#111" stroke-width="0.16">Ctrl.</text>
<text x="346.50" y="465.00" font-size="7.8" text-anchor="end" transform="rotate(-45 346.50 465.00)" textLength="27.73" lengthAdjust="spacingAndGlyphs" stroke="#111" stroke-width="0.16">GPX4 KD</text>
<text x="368.30" y="371.30" font-size="12.8" font-weight="700" fill="#000" textLength="10.66" lengthAdjust="spacingAndGlyphs" stroke="#000" stroke-width="0.35">M</text>
<path d="M412.80 457.50V393.10H420.60V457.50" fill="none" stroke="#000" stroke-width="1.2"/>
<path d="M426.60 457.50V393.60H434.90V457.50" fill="none" stroke="#e83a2e" stroke-width="1.2"/>
<path d="M449.60 457.50V423.10H457.40V457.50" fill="none" stroke="#000" stroke-width="1.2"/>
<path d="M463.60 457.50V401.20H471.60V457.50" fill="none" stroke="#e83a2e" stroke-width="1.2"/>
<circle cx="414.20" cy="392.60" r="1.30" fill="#000"/>
<circle cx="416.60" cy="391.60" r="1.30" fill="#000"/>
<circle cx="419.00" cy="392.40" r="1.30" fill="#000"/>
<circle cx="427.60" cy="391.00" r="1.30" fill="none" stroke="#e83a2e" stroke-width="0.85"/>
<circle cx="433.40" cy="392.40" r="1.30" fill="none" stroke="#e83a2e" stroke-width="0.85"/>
<circle cx="430.60" cy="394.60" r="1.30" fill="none" stroke="#e83a2e" stroke-width="0.85"/>
<circle cx="429.00" cy="393.60" r="1.30" fill="none" stroke="#e83a2e" stroke-width="0.85"/>
<circle cx="450.60" cy="420.40" r="1.30" fill="#000"/>
<circle cx="453.40" cy="422.60" r="1.30" fill="#000"/>
<circle cx="456.00" cy="422.60" r="1.30" fill="#000"/>
<circle cx="464.70" cy="399.50" r="1.30" fill="none" stroke="#e83a2e" stroke-width="0.85"/>
<circle cx="470.40" cy="399.90" r="1.30" fill="none" stroke="#e83a2e" stroke-width="0.85"/>
<circle cx="467.50" cy="401.80" r="1.30" fill="none" stroke="#e83a2e" stroke-width="0.85"/>
<circle cx="467.50" cy="404.60" r="1.30" fill="none" stroke="#e83a2e" stroke-width="0.85"/>
<line x1="405.40" y1="378.25" x2="405.40" y2="458.10" stroke="#000" stroke-width="1.25"/>
<line x1="404.80" y1="457.50" x2="479.50" y2="457.50" stroke="#000" stroke-width="1.25"/>
<line x1="403.00" y1="457.50" x2="405.40" y2="457.50" stroke="#000" stroke-width="1.1"/>
<text x="402.60" y="460.52" font-size="8.4" text-anchor="end" fill="#000" textLength="3.83" lengthAdjust="spacingAndGlyphs" stroke="#000" stroke-width="0.16">0</text>
<line x1="403.00" y1="425.00" x2="405.40" y2="425.00" stroke="#000" stroke-width="1.1"/>
<text x="402.60" y="428.02" font-size="8.4" text-anchor="end" fill="#000" textLength="7.66" lengthAdjust="spacingAndGlyphs" stroke="#000" stroke-width="0.16">50</text>
<line x1="403.00" y1="392.00" x2="405.40" y2="392.00" stroke="#000" stroke-width="1.1"/>
<text x="402.60" y="395.02" font-size="8.4" text-anchor="end" fill="#000" textLength="11.49" lengthAdjust="spacingAndGlyphs" stroke="#000" stroke-width="0.16">100</text>
<text x="385.75" y="416.25" font-size="7.4" text-anchor="middle" transform="rotate(-90 385.75 416.25)" textLength="75.00" lengthAdjust="spacingAndGlyphs" stroke="#111" stroke-width="0.16">Relative cell viability (%)</text>
<line x1="453.40" y1="389.00" x2="466.30" y2="389.00" stroke="#000" stroke-width="0.6"/>
<text x="459.80" y="385.10" font-size="7.8" text-anchor="middle" font-weight="700" fill="#000" textLength="7.29" lengthAdjust="spacingAndGlyphs" stroke="#000" stroke-width="0.16">***</text>
<text x="380.00" y="467.80" font-size="8" textLength="29.90" lengthAdjust="spacingAndGlyphs" stroke="#111" stroke-width="0.16">BEBT-908</text>
<text x="380.00" y="479.00" font-size="8" textLength="15.67" lengthAdjust="spacingAndGlyphs" stroke="#111" stroke-width="0.16">Ferr1</text>
<text x="416.50" y="467.10" font-size="5.8" text-anchor="middle" textLength="3.06" lengthAdjust="spacingAndGlyphs">–</text>
<text x="416.50" y="478.10" font-size="5.8" text-anchor="middle" textLength="3.06" lengthAdjust="spacingAndGlyphs">–</text>
<text x="430.50" y="467.10" font-size="5.8" text-anchor="middle" textLength="3.06" lengthAdjust="spacingAndGlyphs">–</text>
<text x="430.50" y="478.10" font-size="5.8" text-anchor="middle" textLength="3.22" lengthAdjust="spacingAndGlyphs">+</text>
<text x="453.50" y="467.10" font-size="5.8" text-anchor="middle" textLength="3.22" lengthAdjust="spacingAndGlyphs">+</text>
<text x="453.50" y="478.10" font-size="5.8" text-anchor="middle" textLength="3.06" lengthAdjust="spacingAndGlyphs">–</text>
<text x="467.50" y="467.10" font-size="5.8" text-anchor="middle" textLength="3.22" lengthAdjust="spacingAndGlyphs">+</text>
<text x="467.50" y="478.10" font-size="5.8" text-anchor="middle" textLength="3.22" lengthAdjust="spacingAndGlyphs">+</text>
</g>
</svg>
</body></html>
